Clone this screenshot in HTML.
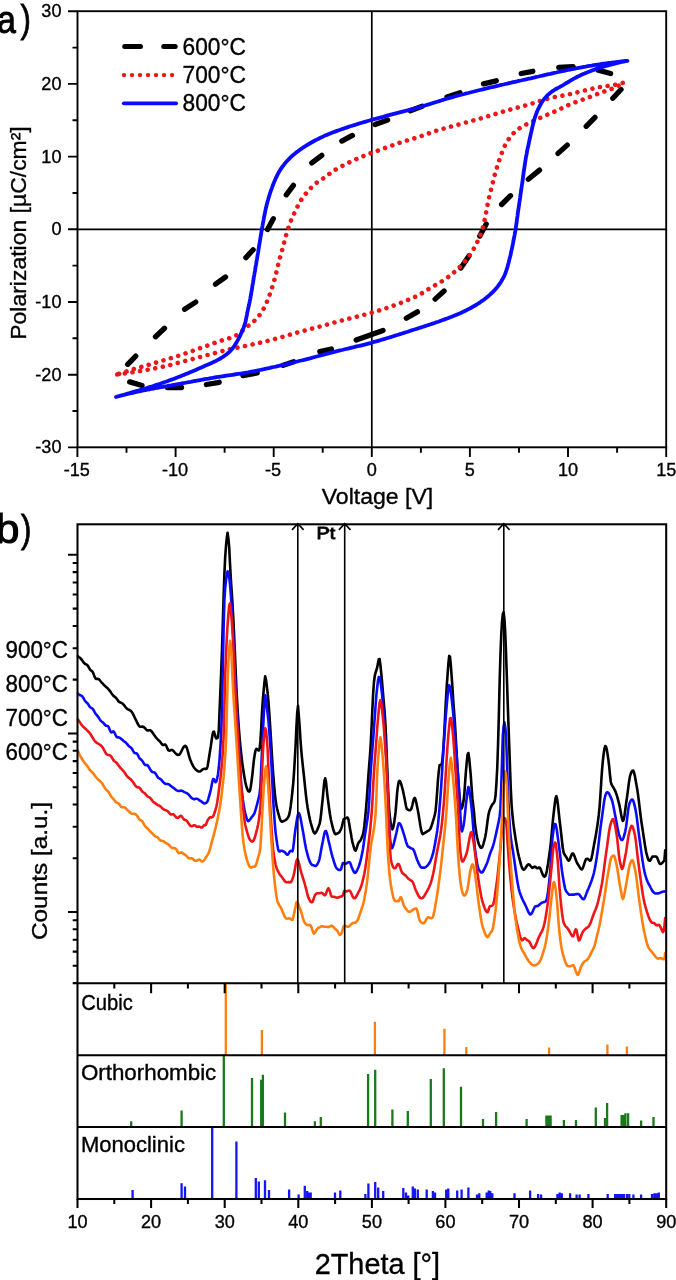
<!DOCTYPE html>
<html lang="en"><head><meta charset="utf-8"><title>Figure</title>
<style>html,body{margin:0;padding:0;background:#fff}body{width:676px;height:1280px;overflow:hidden}svg{display:block;filter:blur(.3px)}text{font-family:"Liberation Sans",Arial,sans-serif;fill:#000;stroke:#000;stroke-width:.35px}</style></head><body>
<svg width="676" height="1280" viewBox="0 0 676 1280">
<rect width="676" height="1280" fill="#fff"/>
<g id="plotA">
<g stroke="#000" stroke-width="1.7" fill="none">
<line x1="77.5" y1="229.3" x2="666.2" y2="229.3"/>
<line x1="371.8" y1="11.2" x2="371.8" y2="447.3"/>
</g>
<g fill="none" stroke-linejoin="round">
<path d="M129.7,381.9 L142,385.5 M167.4,387.5 L181.5,387.5 M206.4,384.5 L219.2,382.3 M242.9,375.6 L257.2,372.9 M283.3,365.3 L293.7,361.8 M319.8,351.7 L331.4,349 M356.2,340.1 L383,330.4 M406.3,318.3 L417.4,311.9 M435.1,299.1 L444.1,291 M460.8,268 L469.1,255.8 M479.8,236.1 L486.2,224.1 M501.6,204.5 L510.5,195.7 M528.3,179.3 L539.5,170.1 M558,153.4 L567.2,145.1 M586.2,126.3 L595,117.3 M612.8,98.3 L621,89.5 M610.6,73.5 L598.2,70.1 M573.2,66.6 L558.7,67.4 M532.8,71.3 L521.2,73.5 M496.3,80.8 L483.5,83.8 M460,92.8 L447,97 M422.2,106.3 L410.3,110.8 M387.6,120 L375.1,124.6 M352.4,135.4 L341.8,141.1 M321.8,155.4 L311.8,162.9 M293.4,185.3 L286.3,194.8 M273.3,218.7 L267.5,229.4 M253.1,249.7 L245.9,257.6 M225.5,277 L215.5,284.1 M195.7,302.1 L184.6,309.3 M164.5,328.3 L155.5,336.7 M135.7,356.1 L127.7,364.3" stroke="#000" stroke-width="5.3" stroke-linecap="round"/>
<path d="M622.7,82.9 L620.8,83.4 L618.8,83.9 L616.9,84.4 L614.9,84.8 L612.9,85.1 L610.9,85.5 L609,85.7 L607,86 L605,86.3 L603,86.6 L601,86.9 L599,87.2 L597.1,87.6 L595.1,88 L593.1,88.5 L591.2,88.9 L589.2,89.4 L587.3,89.9 L585.3,90.3 L583.4,90.8 L581.4,91.3 L579.5,91.8 L577.5,92.3 L575.6,92.8 L573.6,93.3 L571.7,93.7 L569.7,94.2 L567.8,94.6 L565.8,95 L563.8,95.4 L561.8,95.7 L559.9,96.1 L557.9,96.4 L555.9,96.8 L553.9,97.2 L552,97.6 L550,98.1 L548.1,98.6 L546.2,99.1 L544.2,99.7 L542.3,100.3 L540.4,100.9 L538.5,101.5 L536.6,102.1 L534.7,102.7 L532.7,103.3 L530.8,103.9 L528.9,104.5 L527,105 L525,105.6 L523.1,106.1 L521.2,106.6 L519.2,107.2 L517.3,107.7 L515.3,108.2 L513.4,108.7 L511.5,109.3 L509.5,109.8 L507.6,110.4 L505.7,110.9 L503.7,111.5 L501.8,112 L499.9,112.6 L498,113.2 L496.1,113.8 L494.1,114.4 L492.2,115 L490.3,115.5 L488.4,116.1 L486.5,116.7 L484.5,117.3 L482.6,117.8 L480.7,118.4 L478.7,118.9 L476.8,119.5 L474.9,120 L472.9,120.6 L471,121.1 L469.1,121.6 L467.1,122.2 L465.2,122.7 L463.3,123.2 L461.3,123.8 L459.4,124.3 L457.5,124.8 L455.5,125.4 L453.6,125.9 L451.6,126.4 L449.7,126.9 L447.8,127.5 L445.8,128 L443.9,128.5 L442,129.1 L440,129.6 L438.1,130.2 L436.2,130.8 L434.3,131.4 L432.4,132.1 L430.5,132.7 L428.6,133.4 L426.7,134.1 L424.8,134.8 L422.9,135.5 L421,136.1 L419.1,136.8 L417.2,137.4 L415.3,138 L413.4,138.6 L411.5,139.2 L409.5,139.7 L407.6,140.3 L405.7,140.9 L403.8,141.4 L401.9,142 L399.9,142.7 L398,143.3 L396.1,144 L394.3,144.6 L392.4,145.3 L390.5,146 L388.6,146.7 L386.7,147.4 L384.8,148.1 L382.9,148.8 L381,149.4 L379.2,150.1 L377.3,150.8 L375.4,151.5 L373.5,152.2 L371.6,152.9 L369.7,153.6 L367.9,154.3 L366,155.1 L364.1,155.8 L362.3,156.6 L360.4,157.4 L358.6,158.2 L356.8,159 L354.9,159.8 L353.1,160.6 L351.3,161.5 L349.4,162.3 L347.6,163.2 L345.8,164.1 L344.1,165 L342.3,165.9 L340.5,166.9 L338.7,167.8 L337,168.8 L335.3,169.8 L333.6,170.9 L331.9,172 L330.3,173.2 L328.7,174.4 L327.1,175.6 L325.5,176.8 L323.8,178 L322.2,179.2 L320.5,180.2 L318.8,181.3 L317.1,182.4 L315.5,183.6 L314,184.8 L312.5,186.3 L311.2,187.7 L309.8,189.2 L308.5,190.7 L307.1,192.2 L305.8,193.7 L304.6,195.3 L303.4,196.9 L302.2,198.5 L301,200.2 L300,201.9 L299,203.6 L298.1,205.4 L297.2,207.2 L296.4,209 L295.5,210.9 L294.6,212.7 L293.7,214.5 L292.9,216.3 L292,218.1 L291.2,220 L290.5,221.8 L289.8,223.7 L289.1,225.6 L288.5,227.5 L287.9,229.4 L287.3,231.3 L286.7,233.2 L286.1,235.2 L285.6,237.1 L285.1,239 L284.5,241 L284,242.9 L283.5,244.9 L283,246.8 L282.5,248.7 L281.9,250.7 L281.4,252.6 L280.9,254.6 L280.3,256.5 L279.8,258.4 L279.3,260.4 L278.8,262.3 L278.3,264.3 L277.8,266.2 L277.4,268.2 L276.9,270.1 L276.4,272.1 L276,274 L275.5,276 L274.9,277.9 L274.4,279.8 L273.8,281.8 L273.3,283.7 L272.7,285.6 L272.1,287.5 L271.4,289.4 L270.8,291.3 L270.1,293.2 L269.5,295.1 L268.8,297 L268.1,298.9 L267.3,300.8 L266.6,302.7 L265.8,304.5 L264.9,306.3 L264,308.1 L263,309.8 L262,311.6 L260.9,313.3 L259.7,314.9 L258.5,316.5 L257.3,318 L255.9,319.5 L254.4,320.8 L252.9,322.1 L251.3,323.4 L249.7,324.7 L248.2,325.9 L246.6,327.3 L245.1,328.6 L243.5,329.9 L242,331.3 L240.4,332.6 L238.8,333.8 L237.2,334.8 L235.5,335.8 L233.7,336.6 L231.9,337.3 L230,338 L228.1,338.6 L226.1,339.1 L224.2,339.7 L222.2,340.3 L220.3,341 L218.4,341.6 L216.5,342.3 L214.6,342.9 L212.7,343.6 L210.8,344.3 L208.9,345 L207.1,345.7 L205.2,346.4 L203.3,347 L201.4,347.7 L199.5,348.4 L197.6,349.1 L195.7,349.7 L193.8,350.4 L191.9,351.1 L190,351.7 L188.1,352.4 L186.3,353.1 L184.4,353.7 L182.5,354.4 L180.6,355 L178.6,355.7 L176.7,356.3 L174.8,356.9 L172.9,357.5 L171,358.1 L169.1,358.7 L167.2,359.2 L165.2,359.8 L163.3,360.4 L161.4,361 L159.5,361.5 L157.5,362.1 L155.6,362.7 L153.7,363.2 L151.8,363.8 L149.8,364.4 L147.9,365 L146,365.5 L144,366.1 L142.1,366.7 L140.2,367.2 L138.3,367.8 L136.3,368.4 L134.4,368.9 L132.5,369.5 L130.6,370.1 L128.7,370.7 L126.7,371.3 L124.8,371.9 L122.9,372.5 L121,373.1 L119.1,373.8 L117.2,374.4" stroke="#ee1616" stroke-width="4.6" stroke-linecap="round" stroke-dasharray="0.01 7.7"/>
<path d="M117.2,374.4 L119.2,374.1 L121.2,373.9 L123.2,373.6 L125.2,373.3 L127.2,373.1 L129.2,372.8 L131.1,372.5 L133.1,372.2 L135.1,371.9 L137.1,371.6 L139.1,371.2 L141.1,370.9 L143.1,370.6 L145,370.2 L147,369.9 L149,369.5 L151,369.1 L152.9,368.8 L154.9,368.4 L156.9,368 L158.9,367.6 L160.8,367.2 L162.8,366.7 L164.7,366.3 L166.7,365.8 L168.6,365.3 L170.6,364.9 L172.5,364.4 L174.5,363.8 L176.4,363.3 L178.4,362.8 L180.3,362.3 L182.3,361.8 L184.2,361.2 L186.1,360.7 L188.1,360.2 L190,359.7 L192,359.2 L193.9,358.7 L195.9,358.1 L197.8,357.6 L199.7,357.1 L201.7,356.6 L203.6,356.1 L205.6,355.6 L207.5,355 L209.5,354.5 L211.4,354 L213.3,353.5 L215.3,353 L217.2,352.4 L219.2,351.9 L221.1,351.4 L223.1,350.9 L225,350.4 L227,349.9 L228.9,349.5 L230.9,349 L232.8,348.6 L234.8,348.2 L236.8,347.8 L238.7,347.4 L240.7,346.9 L242.7,346.5 L244.6,346.1 L246.6,345.7 L248.6,345.2 L250.5,344.8 L252.5,344.4 L254.5,343.9 L256.4,343.5 L258.4,343 L260.3,342.6 L262.3,342.1 L264.3,341.7 L266.2,341.2 L268.2,340.7 L270.1,340.2 L272.1,339.7 L274,339.2 L275.9,338.7 L277.9,338.2 L279.8,337.6 L281.8,337.1 L283.7,336.5 L285.6,336 L287.5,335.4 L289.5,334.8 L291.4,334.3 L293.3,333.7 L295.3,333.2 L297.2,332.6 L299.1,332.1 L301.1,331.6 L303,331 L305,330.5 L306.9,330 L308.9,329.5 L310.8,328.9 L312.7,328.4 L314.7,327.9 L316.6,327.4 L318.6,326.9 L320.5,326.3 L322.4,325.8 L324.4,325.3 L326.3,324.8 L328.3,324.2 L330.2,323.7 L332.1,323.2 L334.1,322.6 L336,322.1 L338,321.6 L339.9,321.1 L341.8,320.5 L343.8,320 L345.7,319.5 L347.7,319 L349.6,318.5 L351.6,318 L353.5,317.5 L355.5,317 L357.4,316.5 L359.4,316 L361.3,315.5 L363.3,315 L365.2,314.5 L367.2,314 L369.1,313.5 L371,312.9 L372.9,312.4 L374.9,311.8 L376.8,311.2 L378.7,310.6 L380.6,310 L382.5,309.4 L384.5,308.7 L386.4,308.1 L388.3,307.5 L390.2,306.8 L392.1,306.1 L394,305.4 L395.8,304.8 L397.7,304.1 L399.6,303.4 L401.5,302.6 L403.4,301.9 L405.2,301.2 L407.1,300.4 L409,299.6 L410.8,298.9 L412.7,298 L414.5,297.2 L416.3,296.3 L418.1,295.4 L419.8,294.5 L421.6,293.5 L423.3,292.4 L425,291.3 L426.7,290.3 L428.4,289.2 L430.1,288.1 L431.9,287.1 L433.6,286.1 L435.3,285.1 L437.1,284.1 L438.8,283.1 L440.6,282.1 L442.3,281 L444,279.9 L445.6,278.8 L447.3,277.6 L448.9,276.5 L450.5,275.2 L452.1,274 L453.6,272.7 L455.1,271.4 L456.6,270.1 L458.1,268.7 L459.5,267.3 L461,265.8 L462.3,264.4 L463.7,262.9 L465,261.3 L466.2,259.8 L467.5,258.2 L468.7,256.6 L469.8,254.9 L471,253.3 L472.1,251.6 L473.1,249.9 L474.1,248.1 L475.1,246.4 L476,244.6 L476.9,242.8 L477.8,241 L478.6,239.1 L479.5,237.3 L480.2,235.4 L481,233.6 L481.7,231.7 L482.3,229.8 L482.8,227.9 L483.3,225.9 L483.8,224 L484.2,222 L484.6,220 L485,218 L485.4,216.1 L485.8,214.1 L486.2,212.1 L486.5,210.1 L486.9,208.2 L487.3,206.2 L487.6,204.2 L488,202.2 L488.4,200.3 L488.9,198.3 L489.3,196.4 L489.8,194.4 L490.3,192.4 L490.8,190.5 L491.3,188.6 L491.8,186.6 L492.3,184.7 L492.8,182.7 L493.2,180.7 L493.7,178.8 L494.2,176.8 L494.7,174.9 L495.2,173 L495.8,171 L496.4,169.1 L497,167.2 L497.6,165.3 L498.2,163.3 L498.8,161.4 L499.5,159.5 L500.2,157.6 L500.8,155.7 L501.5,153.8 L502.2,151.9 L502.9,150.1 L503.7,148.2 L504.5,146.4 L505.4,144.6 L506.4,142.8 L507.4,141.1 L508.5,139.4 L509.7,137.8 L510.9,136.2 L512.2,134.7 L513.6,133.2 L515.1,131.8 L516.6,130.5 L518.2,129.3 L519.8,128.1 L521.5,127 L523.3,126 L525,125.1 L526.8,124.1 L528.6,123.2 L530.4,122.4 L532.3,121.5 L534.1,120.7 L535.9,119.8 L537.7,119 L539.6,118.2 L541.4,117.4 L543.3,116.5 L545.1,115.7 L546.9,114.9 L548.8,114.1 L550.6,113.3 L552.5,112.5 L554.3,111.7 L556.1,110.9 L558,110 L559.8,109.2 L561.6,108.3 L563.4,107.4 L565.2,106.5 L567,105.7 L568.9,104.9 L570.7,104.1 L572.6,103.3 L574.4,102.6 L576.3,101.9 L578.2,101.2 L580.1,100.5 L582,99.8 L583.9,99.1 L585.8,98.5 L587.7,97.8 L589.5,97 L591.4,96.3 L593.3,95.6 L595.2,94.9 L597.1,94.2 L598.9,93.5 L600.8,92.8 L602.7,92.1 L604.6,91.4 L606.5,90.7 L608.4,90.1 L610.3,89.4 L612.2,88.7 L614.1,87.9 L615.9,87.1 L617.7,86.2 L619.4,85.2 L621,84.1 L622.7,82.9" stroke="#ee1616" stroke-width="4.6" stroke-linecap="round" stroke-dasharray="0.01 7.7"/>
<path d="M116,397 L117.9,396.5 L119.9,396 L121.8,395.5 L123.8,395 L125.7,394.5 L127.7,394 L129.6,393.5 L131.6,393.1 L133.5,392.6 L135.5,392.2 L137.5,391.7 L139.4,391.3 L141.4,390.9 L143.4,390.5 L145.3,390.1 L147.3,389.7 L149.3,389.3 L151.2,388.9 L153.2,388.6 L155.2,388.2 L157.2,387.8 L159.1,387.5 L161.1,387.1 L163.1,386.8 L165.1,386.4 L167.1,386.1 L169,385.7 L171,385.4 L173,385 L175,384.7 L176.9,384.3 L178.9,384 L180.9,383.6 L182.9,383.2 L184.8,382.9 L186.8,382.5 L188.8,382.1 L190.8,381.8 L192.7,381.4 L194.7,381 L196.7,380.7 L198.7,380.3 L200.7,380 L202.6,379.6 L204.6,379.2 L206.6,378.9 L208.6,378.6 L210.5,378.2 L212.5,377.9 L214.5,377.5 L216.5,377.2 L218.5,376.9 L220.5,376.6 L222.4,376.3 L224.4,376 L226.4,375.7 L228.4,375.4 L230.4,375.1 L232.4,374.8 L234.4,374.5 L236.4,374.2 L238.3,373.9 L240.3,373.6 L242.3,373.3 L244.3,373 L246.3,372.6 L248.2,372.3 L250.2,371.9 L252.2,371.5 L254.2,371.2 L256.1,370.8 L258.1,370.4 L260.1,370 L262,369.6 L264,369.2 L266,368.7 L267.9,368.3 L269.9,367.9 L271.8,367.4 L273.8,367 L275.8,366.6 L277.7,366.1 L279.7,365.7 L281.6,365.2 L283.6,364.7 L285.6,364.3 L287.5,363.8 L289.5,363.4 L291.4,362.9 L293.4,362.4 L295.3,362 L297.3,361.5 L299.2,361 L301.2,360.5 L303.1,360.1 L305.1,359.6 L307,359.1 L309,358.6 L310.9,358.1 L312.9,357.5 L314.8,357 L316.7,356.5 L318.7,356 L320.6,355.5 L322.6,355 L324.5,354.4 L326.5,353.9 L328.4,353.4 L330.3,352.9 L332.3,352.4 L334.2,351.9 L336.2,351.4 L338.1,350.9 L340.1,350.4 L342,350 L344,349.5 L345.9,349 L347.9,348.6 L349.8,348.1 L351.8,347.6 L353.8,347.2 L355.7,346.7 L357.7,346.2 L359.6,345.8 L361.6,345.3 L363.5,344.8 L365.5,344.3 L367.4,343.8 L369.3,343.3 L371.3,342.8 L373.2,342.2 L375.1,341.7 L377.1,341.1 L379,340.6 L380.9,340 L382.9,339.4 L384.8,338.9 L386.7,338.3 L388.6,337.7 L390.6,337.1 L392.5,336.5 L394.4,335.9 L396.3,335.3 L398.2,334.7 L400.1,334.1 L402.1,333.5 L404,332.9 L405.9,332.3 L407.8,331.7 L409.7,331 L411.6,330.4 L413.5,329.8 L415.4,329.2 L417.4,328.6 L419.3,328 L421.2,327.4 L423.1,326.8 L425,326.1 L426.9,325.5 L428.8,324.9 L430.7,324.3 L432.6,323.6 L434.5,323 L436.4,322.3 L438.3,321.7 L440.2,321 L442.1,320.3 L444,319.6 L445.9,318.9 L447.8,318.3 L449.7,317.5 L451.6,316.8 L453.4,316.1 L455.3,315.3 L457.1,314.5 L459,313.7 L460.8,312.9 L462.6,312.1 L464.4,311.2 L466.3,310.3 L468,309.4 L469.8,308.5 L471.6,307.5 L473.3,306.5 L475.1,305.5 L476.8,304.5 L478.5,303.4 L480.2,302.3 L481.8,301.1 L483.5,300 L485.1,298.7 L486.6,297.5 L488.2,296.2 L489.7,294.9 L491.2,293.5 L492.7,292.1 L494.1,290.7 L495.4,289.2 L496.7,287.7 L498,286.1 L499.1,284.5 L500.3,282.9 L501.4,281.2 L502.4,279.4 L503.4,277.6 L504.3,275.8 L505.1,274 L505.8,272.2 L506.4,270.3 L507,268.4 L507.6,266.5 L508.1,264.5 L508.7,262.5 L509.1,260.6 L509.6,258.6 L510.1,256.7 L510.6,254.7 L511,252.7 L511.4,250.8 L511.9,248.8 L512.3,246.9 L512.7,244.9 L513.1,242.9 L513.4,240.9 L513.8,239 L514.2,237 L514.6,235 L514.9,233 L515.3,231.1 L515.6,229.1 L515.9,227.1 L516.2,225.1 L516.5,223.1 L516.8,221.1 L517,219.1 L517.3,217.2 L517.6,215.2 L517.8,213.2 L518.1,211.2 L518.4,209.2 L518.7,207.2 L519,205.2 L519.3,203.2 L519.6,201.2 L519.9,199.3 L520.2,197.3 L520.4,195.3 L520.7,193.3 L521,191.3 L521.3,189.3 L521.6,187.3 L521.9,185.3 L522.2,183.4 L522.5,181.4 L522.7,179.4 L523,177.4 L523.3,175.4 L523.5,173.4 L523.8,171.4 L524.1,169.4 L524.4,167.4 L524.7,165.4 L525,163.5 L525.3,161.5 L525.6,159.5 L525.9,157.5 L526.3,155.5 L526.7,153.6 L527,151.6 L527.4,149.6 L527.8,147.7 L528.3,145.7 L528.7,143.7 L529.1,141.8 L529.5,139.8 L530,137.8 L530.4,135.9 L530.8,133.9 L531.3,131.9 L531.7,130 L532.2,128 L532.6,126 L533.1,124.1 L533.6,122.1 L534.1,120.2 L534.7,118.3 L535.3,116.4 L536,114.5 L536.7,112.6 L537.4,110.7 L538.3,108.9 L539.2,107.1 L540.1,105.3 L541.1,103.6 L542.1,101.9 L543.3,100.2 L544.5,98.6 L545.9,97.1 L547.2,95.6 L548.7,94.2 L550.2,92.9 L551.7,91.7 L553.4,90.6 L555.1,89.5 L556.8,88.5 L558.6,87.6 L560.4,86.6 L562.2,85.6 L563.9,84.6 L565.6,83.5 L567.4,82.5 L569.1,81.5 L570.8,80.4 L572.6,79.4 L574.3,78.4 L576.1,77.5 L577.8,76.5 L579.6,75.7 L581.5,74.8 L583.3,74 L585.1,73.2 L587,72.5 L588.9,71.7 L590.8,71 L592.6,70.3 L594.5,69.6 L596.4,68.9 L598.3,68.3 L600.2,67.7 L602.2,67.1 L604.1,66.5 L606,66 L607.9,65.4 L609.9,64.9 L611.8,64.4 L613.8,63.9 L615.7,63.4 L617.7,62.9 L619.6,62.5 L621.6,62 L623.6,61.6 L625.5,61.2 L627.5,60.8 L625.5,61 L623.5,61.2 L621.5,61.4 L619.5,61.7 L617.5,61.9 L615.5,62.2 L613.5,62.4 L611.5,62.7 L609.5,62.9 L607.6,63.2 L605.6,63.5 L603.6,63.7 L601.6,64 L599.6,64.3 L597.6,64.6 L595.6,64.9 L593.7,65.2 L591.7,65.6 L589.7,65.9 L587.7,66.2 L585.7,66.6 L583.8,66.9 L581.8,67.3 L579.8,67.7 L577.8,68 L575.9,68.4 L573.9,68.8 L571.9,69.2 L570,69.6 L568,70 L566,70.4 L564,70.8 L562.1,71.2 L560.1,71.6 L558.2,72 L556.2,72.5 L554.2,72.9 L552.3,73.3 L550.3,73.8 L548.4,74.2 L546.4,74.7 L544.4,75.1 L542.5,75.6 L540.5,76 L538.6,76.5 L536.6,76.9 L534.7,77.4 L532.7,77.8 L530.7,78.3 L528.8,78.7 L526.8,79.2 L524.9,79.6 L522.9,80 L520.9,80.5 L519,80.9 L517,81.4 L515.1,81.8 L513.1,82.2 L511.2,82.7 L509.2,83.1 L507.2,83.6 L505.3,84 L503.3,84.5 L501.4,84.9 L499.4,85.4 L497.5,85.8 L495.5,86.3 L493.5,86.8 L491.6,87.2 L489.6,87.7 L487.7,88.2 L485.7,88.6 L483.8,89.1 L481.8,89.6 L479.9,90 L477.9,90.5 L476,91 L474,91.5 L472.1,92 L470.1,92.5 L468.2,93 L466.2,93.4 L464.3,94 L462.4,94.5 L460.4,95 L458.5,95.5 L456.5,96 L454.6,96.5 L452.7,97.1 L450.7,97.6 L448.8,98.2 L446.9,98.7 L445,99.3 L443,99.9 L441.1,100.5 L439.2,101.1 L437.3,101.7 L435.4,102.3 L433.4,102.9 L431.5,103.5 L429.6,104.1 L427.7,104.6 L425.8,105.2 L423.8,105.8 L421.9,106.4 L420,106.9 L418.1,107.5 L416.1,108 L414.2,108.6 L412.2,109.1 L410.3,109.6 L408.4,110.1 L406.4,110.7 L404.5,111.2 L402.5,111.7 L400.6,112.2 L398.7,112.7 L396.7,113.2 L394.8,113.7 L392.8,114.2 L390.9,114.7 L388.9,115.2 L387,115.7 L385.1,116.2 L383.1,116.8 L381.2,117.3 L379.2,117.8 L377.3,118.3 L375.4,118.8 L373.4,119.4 L371.5,119.9 L369.6,120.5 L367.6,121 L365.7,121.6 L363.8,122.1 L361.8,122.7 L359.9,123.3 L358,123.9 L356.1,124.5 L354.2,125.1 L352.2,125.7 L350.3,126.3 L348.4,126.9 L346.5,127.6 L344.6,128.2 L342.7,128.9 L340.8,129.5 L338.9,130.2 L337,130.9 L335.1,131.6 L333.3,132.3 L331.4,133 L329.5,133.8 L327.7,134.6 L325.8,135.3 L324,136.1 L322.2,137 L320.4,137.8 L318.6,138.7 L316.8,139.6 L315,140.5 L313.2,141.5 L311.4,142.5 L309.7,143.5 L308,144.5 L306.2,145.6 L304.6,146.6 L302.9,147.7 L301.2,148.9 L299.6,150 L298,151.2 L296.3,152.4 L294.8,153.7 L293.2,155 L291.7,156.3 L290.3,157.7 L288.9,159.1 L287.5,160.5 L286.1,162 L284.8,163.6 L283.6,165.2 L282.3,166.8 L281.2,168.4 L280.1,170.1 L279.1,171.8 L278.1,173.5 L277.2,175.3 L276.3,177.1 L275.5,179 L274.7,180.8 L273.9,182.7 L273.2,184.6 L272.4,186.5 L271.8,188.3 L271.1,190.2 L270.4,192.1 L269.8,194 L269.2,196 L268.6,197.9 L268.1,199.8 L267.5,201.8 L267,203.7 L266.5,205.6 L266.1,207.6 L265.6,209.5 L265.2,211.5 L264.8,213.5 L264.4,215.4 L264,217.4 L263.7,219.4 L263.3,221.4 L262.9,223.4 L262.6,225.3 L262.2,227.3 L261.9,229.3 L261.5,231.3 L261.2,233.2 L260.9,235.2 L260.5,237.2 L260.2,239.2 L259.9,241.2 L259.6,243.2 L259.2,245.1 L258.9,247.1 L258.6,249.1 L258.3,251.1 L258,253.1 L257.6,255 L257.3,257 L257,259 L256.6,261 L256.3,263 L256,264.9 L255.6,266.9 L255.3,268.9 L255,270.9 L254.6,272.9 L254.3,274.8 L253.9,276.8 L253.6,278.8 L253.3,280.8 L253,282.8 L252.6,284.7 L252.3,286.7 L252,288.7 L251.7,290.7 L251.3,292.7 L251,294.7 L250.6,296.6 L250.3,298.6 L249.9,300.6 L249.5,302.5 L249.1,304.5 L248.6,306.5 L248.2,308.4 L247.8,310.4 L247.3,312.4 L247,314.3 L246.6,316.3 L246.2,318.3 L245.8,320.3 L245.4,322.2 L244.8,324.1 L244.2,326 L243.5,327.9 L242.7,329.8 L241.9,331.6 L241.1,333.4 L240.3,335.3 L239.4,337.1 L238.5,338.9 L237.5,340.7 L236.6,342.4 L235.5,344.1 L234.4,345.8 L233.2,347.5 L232,349.1 L230.7,350.6 L229.3,352 L227.8,353.3 L226.3,354.6 L224.6,355.7 L222.9,356.9 L221.2,358 L219.5,359 L217.8,359.9 L216,360.9 L214.2,361.7 L212.4,362.6 L210.5,363.4 L208.7,364.2 L206.8,365 L205,365.8 L203.1,366.7 L201.3,367.5 L199.5,368.3 L197.6,369.1 L195.8,369.9 L193.9,370.7 L192.1,371.5 L190.2,372.3 L188.4,373.1 L186.5,373.8 L184.7,374.6 L182.8,375.3 L181,376.1 L179.1,376.8 L177.2,377.5 L175.3,378.3 L173.5,379 L171.6,379.6 L169.7,380.3 L167.8,381 L165.9,381.7 L164,382.3 L162.1,383 L160.2,383.7 L158.3,384.3 L156.4,384.9 L154.5,385.6 L152.6,386.2 L150.7,386.8 L148.8,387.4 L146.8,388 L144.9,388.5 L143,389.1 L141.1,389.7 L139.1,390.3 L137.2,390.8 L135.3,391.4 L133.4,391.9 L131.4,392.5 L129.5,393.1 L127.6,393.6 L125.6,394.2 L123.7,394.8 L121.8,395.3 L119.9,395.9 L117.9,396.4 L116,397Z" stroke="#0a0aff" stroke-width="3.8" stroke-linecap="round"/>
</g>
<g stroke="#000" stroke-width="1.9" fill="none">
<rect x="77.5" y="11.2" width="588.7" height="436.1"/>
<path d="M77.4,447.3 v9.6 M126.5,447.3 v5.4 M175.6,447.3 v9.6 M224.6,447.3 v5.4 M273.7,447.3 v9.6 M322.7,447.3 v5.4 M371.8,447.3 v9.6 M420.9,447.3 v5.4 M469.9,447.3 v9.6 M519,447.3 v5.4 M568,447.3 v9.6 M617.1,447.3 v5.4 M666.2,447.3 v9.6 M77.5,447.4 h-9.5 M77.5,411 h-5 M77.5,374.7 h-9.5 M77.5,338.3 h-5 M77.5,302 h-9.5 M77.5,265.6 h-5 M77.5,229.3 h-9.5 M77.5,193 h-5 M77.5,156.6 h-9.5 M77.5,120.3 h-5 M77.5,83.9 h-9.5 M77.5,47.6 h-5 M77.5,11.2 h-9.5"/>
</g>
<g font-size="18.1" text-anchor="end">
<text x="61.5" y="453.2">-30</text>
<text x="61.5" y="380.6">-20</text>
<text x="61.5" y="307.9">-10</text>
<text x="61.5" y="235.2">0</text>
<text x="61.5" y="162.5">10</text>
<text x="61.5" y="89.8">20</text>
<text x="61.5" y="17.1">30</text>
</g>
<g font-size="18.1" text-anchor="middle">
<text x="76.8" y="476.1">-15</text>
<text x="175" y="476.1">-10</text>
<text x="273.1" y="476.1">-5</text>
<text x="371.8" y="476.1">0</text>
<text x="469.9" y="476.1">5</text>
<text x="568" y="476.1">10</text>
<text x="666.2" y="476.1">15</text>
</g>
<text x="377.5" y="503.6" font-size="22.8" text-anchor="middle" textLength="111.5" lengthAdjust="spacingAndGlyphs">Voltage [V]</text>
<text transform="translate(26,233) rotate(-90)" font-size="22.8" text-anchor="middle" textLength="213.5" lengthAdjust="spacingAndGlyphs">Polarization [µC/cm²]</text>
<g fill="none">
<path d="M124.7,46.5 H140.5 M163.7,46.5 H175.2" stroke="#000" stroke-width="5" stroke-linecap="round"/>
<path d="M124,75.1 H173" stroke="#ee1616" stroke-width="4.4" stroke-linecap="round" stroke-dasharray="0.01 8"/>
<path d="M123.8,103.3 H176.1" stroke="#0a0aff" stroke-width="3.8" stroke-linecap="round"/>
</g>
<g font-size="24">
<text x="182.6" y="54.6" textLength="63.4" lengthAdjust="spacingAndGlyphs">600°C</text>
<text x="182.6" y="82.9" textLength="63.4" lengthAdjust="spacingAndGlyphs">700°C</text>
<text x="182.6" y="111.2" textLength="63.4" lengthAdjust="spacingAndGlyphs">800°C</text>
</g>
<text><tspan x="-2.7" y="33.2" font-size="39" textLength="18.6" lengthAdjust="spacingAndGlyphs" style="stroke-width:1px">a</tspan><tspan x="20.6" y="31.7" font-size="38.7" textLength="10.4" lengthAdjust="spacingAndGlyphs" style="stroke-width:.8px">)</tspan></text>
</g>
<g id="plotB">
<g fill="none" stroke-width="2.6" stroke-linejoin="round" stroke-linecap="round">
<path d="M78,656.4 L78.8,657 L79.6,657.5 L80.4,658.2 L81.2,659.1 L82,660.1 L82.8,661.3 L83.6,662.4 L84.4,663.3 L85.2,664 L86,664.3 L86.8,664.7 L87.6,665.4 L88.4,666.7 L89.2,668.1 L90,669.5 L90.8,670.3 L91.6,670.8 L92.4,671.5 L93.2,673 L94,675.1 L94.8,677.2 L95.6,678.6 L96.4,679 L97.2,678.9 L98,678.8 L98.8,679.2 L99.6,680 L100.4,681 L101.2,682 L102,682.9 L102.8,683.7 L103.6,684.6 L104.4,685.4 L105.2,686.1 L106,686.9 L106.8,687.6 L107.6,688.3 L108.4,689.2 L109.2,690.1 L110,691.1 L110.8,692.2 L111.6,693.4 L112.4,694.5 L113.2,695.5 L114,696.3 L114.8,696.9 L115.6,697.5 L116.4,698.3 L117.2,699.4 L118,700.6 L118.8,701.6 L119.6,702.2 L120.4,702.6 L121.2,702.8 L122,703.2 L122.8,703.8 L123.6,704.6 L124.4,705.6 L125.2,706.7 L126,707.7 L126.8,708.5 L127.6,709.1 L128.4,709.5 L129.2,709.8 L130,710.3 L130.8,710.9 L131.6,711.7 L132.4,712.9 L133.2,714.4 L134,716 L134.8,717.7 L135.6,719.4 L136.4,721 L137.2,722.7 L138,724.3 L138.8,725.6 L139.6,726.5 L140.4,726.8 L141.2,726.7 L142,726.6 L142.8,726.6 L143.6,727 L144.4,727.6 L145.2,728.4 L146,729.3 L146.8,730.1 L147.6,730.5 L148.4,730.4 L149.2,730.2 L150,730.2 L150.8,730.6 L151.6,731.4 L152.4,732.4 L153.2,733.5 L154,734.7 L154.8,735.8 L155.6,736.9 L156.4,738 L157.2,738.9 L158,739.7 L158.8,740.4 L159.6,741.2 L160.4,742.1 L161.2,743.2 L162,744.3 L162.8,745 L163.6,745 L164.4,744.6 L165.2,744.5 L166,745.3 L166.8,747 L167.6,748.9 L168.4,750.3 L169.2,750.7 L170,750.5 L170.8,750.1 L171.6,749.9 L172.4,750.1 L173.2,750.7 L174,751.5 L174.8,752.5 L175.6,753.4 L176.4,754.2 L177.2,754.7 L178,754.9 L178.8,754.8 L179.6,754.3 L180.4,753.1 L181.2,751.7 L182,750 L182.8,748.4 L183.6,747 L184.4,746.1 L185.2,745.8 L186,746.3 L186.8,747.9 L187.6,750.4 L188.4,753.3 L189.2,756.4 L190,759 L190.8,761.1 L191.6,763 L192.4,764.7 L193.2,766.2 L194,767.4 L194.8,768.5 L195.6,769.4 L196.4,770.1 L197.2,770.7 L198,771.2 L198.8,771.5 L199.6,771.5 L200.4,771.2 L201.2,770.6 L202,769.9 L202.8,769.3 L203.6,768.9 L204.4,768.7 L205.2,768.7 L206,768.9 L206.8,768.7 L207.6,766.1 L208.4,761.6 L209.2,756.2 L210,751.1 L210.8,746.4 L211.6,740.8 L212.4,735.5 L213.2,731.9 L214,731.6 L214.8,734.3 L215.6,737.2 L216.4,738.5 L217.2,738.3 L218,737.2 L218.8,729.8 L219.6,709.7 L220.4,690.5 L221.2,671.3 L222,649.9 L222.8,623.5 L223.6,597.2 L224.4,573.7 L225.2,556.8 L226,546 L226.8,537.6 L227.6,532.8 L228.4,538.7 L229.2,547.4 L230,563.2 L230.8,578.6 L231.6,590.2 L232.4,602.1 L233.2,616.7 L234,632.9 L234.8,650.3 L235.6,669.9 L236.4,688.1 L237.2,702.7 L238,716 L238.8,727.7 L239.6,737.6 L240.4,746.3 L241.2,754 L242,760.9 L242.8,766.8 L243.6,772 L244.4,777 L245.2,781.4 L246,785.2 L246.8,788 L247.6,789.8 L248.4,791.3 L249.2,791.6 L250,790.7 L250.8,786.5 L251.6,780.7 L252.4,774.6 L253.2,766.5 L254,759.2 L254.8,754.1 L255.6,750.1 L256.4,748.8 L257.2,749.2 L258,750.1 L258.8,750.5 L259.6,749.1 L260.4,740.9 L261.2,728.4 L262,712 L262.8,700.6 L263.6,691.3 L264.4,682.7 L265.2,676.2 L266,679.8 L266.8,685.9 L267.6,692.7 L268.4,701.2 L269.2,712.1 L270,724.1 L270.8,736.6 L271.6,749.8 L272.4,762.8 L273.2,774.4 L274,784.2 L274.8,793.1 L275.6,800.3 L276.4,805.2 L277.2,809.1 L278,812.2 L278.8,815.1 L279.6,817.9 L280.4,820.1 L281.2,821.4 L282,821.8 L282.8,821.4 L283.6,821 L284.4,820.7 L285.2,820.3 L286,819.8 L286.8,819 L287.6,818.1 L288.4,816.8 L289.2,814.7 L290,810.8 L290.8,805.4 L291.6,798.8 L292.4,791.5 L293.2,783.6 L294,772.8 L294.8,759.6 L295.6,745.2 L296.4,727.2 L297.2,713 L298,705.8 L298.8,715.3 L299.6,726.2 L300.4,738.5 L301.2,749.5 L302,758.1 L302.8,765.6 L303.6,772.9 L304.4,780.5 L305.2,788.2 L306,795.6 L306.8,802.1 L307.6,807.5 L308.4,812 L309.2,816.1 L310,819.8 L310.8,823 L311.6,825.8 L312.4,828.5 L313.2,831 L314,832.8 L314.8,833.4 L315.6,832.7 L316.4,831.5 L317.2,830 L318,828.1 L318.8,826 L319.6,823.9 L320.4,819.8 L321.2,813 L322,805.2 L322.8,797.8 L323.6,788.9 L324.4,780.8 L325.2,778.3 L326,781.9 L326.8,789.7 L327.6,797.1 L328.4,803 L329.2,809 L330,814.5 L330.8,819.2 L331.6,822.7 L332.4,826 L333.2,829.1 L334,831.8 L334.8,833.6 L335.6,834.2 L336.4,833.9 L337.2,833.5 L338,833.2 L338.8,832.7 L339.6,831.8 L340.4,830.4 L341.2,828.7 L342,826.3 L342.8,822.6 L343.6,819.5 L344.4,818.7 L345.2,818.5 L346,818.1 L346.8,817.7 L347.6,817.5 L348.4,819.2 L349.2,823.7 L350,828.7 L350.8,833.1 L351.6,837.9 L352.4,842.1 L353.2,845 L354,847.7 L354.8,850 L355.6,850.6 L356.4,848.8 L357.2,846.4 L358,844 L358.8,842.3 L359.6,841.4 L360.4,840.5 L361.2,839 L362,837 L362.8,834.9 L363.6,831.4 L364.4,825.2 L365.2,817.3 L366,808.9 L366.8,798.8 L367.6,787.1 L368.4,775.4 L369.2,765.1 L370,755.1 L370.8,742.8 L371.6,726 L372.4,708.6 L373.2,692.7 L374,682 L374.8,675.6 L375.6,672.5 L376.4,670.3 L377.2,667.4 L378,663 L378.8,659.2 L379.6,659 L380.4,665 L381.2,672.9 L382,681.2 L382.8,690.8 L383.6,700.4 L384.4,709.7 L385.2,720.6 L386,736.4 L386.8,757.5 L387.6,777.5 L388.4,797.6 L389.2,810.1 L390,817.8 L390.8,823.8 L391.6,827.8 L392.4,829.3 L393.2,827.4 L394,823.6 L394.8,818.3 L395.6,811.9 L396.4,802.2 L397.2,791.8 L398,785.7 L398.8,781.5 L399.6,780.9 L400.4,781.9 L401.2,784.1 L402,787 L402.8,790 L403.6,793.7 L404.4,797.4 L405.2,801.7 L406,806.1 L406.8,809 L407.6,809.5 L408.4,809.9 L409.2,810.3 L410,810.3 L410.8,809.6 L411.6,808.1 L412.4,805 L413.2,801.4 L414,798.6 L414.8,797.8 L415.6,799.7 L416.4,803.2 L417.2,807.3 L418,811 L418.8,815.7 L419.6,820.8 L420.4,825.9 L421.2,830.2 L422,833.1 L422.8,834.1 L423.6,833.7 L424.4,833.2 L425.2,832.7 L426,832.2 L426.8,831.6 L427.6,831.1 L428.4,830.7 L429.2,830.3 L430,829.3 L430.8,827.8 L431.6,825.7 L432.4,823.2 L433.2,820.5 L434,817.8 L434.8,814.7 L435.6,810.4 L436.4,801.8 L437.2,791 L438,779.7 L438.8,771.1 L439.6,765.2 L440.4,764.8 L441.2,764.8 L442,762.9 L442.8,755.8 L443.6,745 L444.4,730.6 L445.2,713.7 L446,699 L446.8,685.4 L447.6,674.2 L448.4,663.3 L449.2,655.9 L450,656.9 L450.8,664.9 L451.6,675.6 L452.4,686.9 L453.2,700 L454,710.5 L454.8,721.4 L455.6,734.6 L456.4,749.1 L457.2,763.3 L458,775.9 L458.8,787.7 L459.6,797.5 L460.4,804.8 L461.2,808.9 L462,807.8 L462.8,804.8 L463.6,800.6 L464.4,793.3 L465.2,781 L466,770.7 L466.8,761.5 L467.6,754.4 L468.4,753 L469.2,758.4 L470,766.9 L470.8,775.9 L471.6,787.5 L472.4,798.2 L473.2,805.1 L474,812.1 L474.8,821.8 L475.6,828.3 L476.4,833.5 L477.2,838 L478,841.5 L478.8,844 L479.6,845.9 L480.4,847.4 L481.2,847.9 L482,847.5 L482.8,845.9 L483.6,843.3 L484.4,840.2 L485.2,837 L486,832.7 L486.8,826.8 L487.6,820.5 L488.4,815.1 L489.2,811.6 L490,809.3 L490.8,807.4 L491.6,805.8 L492.4,804.4 L493.2,803.5 L494,802.4 L494.8,800.4 L495.6,795.1 L496.4,783.7 L497.2,768.8 L498,746.3 L498.8,717.6 L499.6,683.6 L500.4,656.4 L501.2,636 L502,622.2 L502.8,614.3 L503.6,612.2 L504.4,618.7 L505.2,632.1 L506,652.2 L506.8,675.8 L507.6,699.9 L508.4,722.7 L509.2,744.8 L510,767.2 L510.8,789.3 L511.6,805 L512.4,814.5 L513.2,822.1 L514,828.3 L514.8,833.7 L515.6,838.9 L516.4,843.9 L517.2,848.5 L518,852.6 L518.8,856.2 L519.6,859.3 L520.4,862.4 L521.2,865.3 L522,867.7 L522.8,869.2 L523.6,869.7 L524.4,869.4 L525.2,868.5 L526,867.2 L526.8,865.9 L527.6,864.9 L528.4,864.4 L529.2,864.5 L530,865.2 L530.8,866.3 L531.6,867.3 L532.4,867.9 L533.2,867.5 L534,866.9 L534.8,866.6 L535.6,867 L536.4,867.7 L537.2,868.3 L538,868.2 L538.8,867.6 L539.6,867.5 L540.4,868.6 L541.2,870.6 L542,872.8 L542.8,874.8 L543.6,876.1 L544.4,876.6 L545.2,876.1 L546,874.3 L546.8,871.1 L547.6,866.6 L548.4,861.2 L549.2,855.5 L550,849.8 L550.8,843.1 L551.6,834.7 L552.4,825.8 L553.2,817.4 L554,810.5 L554.8,803.7 L555.6,798 L556.4,796.1 L557.2,799.2 L558,805.3 L558.8,812.9 L559.6,820.5 L560.4,826.9 L561.2,834 L562,841.4 L562.8,848 L563.6,852.5 L564.4,854.3 L565.2,855.5 L566,856.6 L566.8,858 L567.6,859.5 L568.4,860.6 L569.2,860.5 L570,859 L570.8,856.8 L571.6,854.8 L572.4,853.5 L573.2,853.6 L574,855.1 L574.8,857.1 L575.6,859.3 L576.4,861.5 L577.2,863.3 L578,864.5 L578.8,865.7 L579.6,867.1 L580.4,868.3 L581.2,869.2 L582,869.4 L582.8,868.1 L583.6,865.9 L584.4,863.3 L585.2,860.9 L586,859.2 L586.8,858.8 L587.6,858.9 L588.4,859.4 L589.2,860 L590,860.7 L590.8,860.3 L591.6,857.8 L592.4,853.9 L593.2,849.4 L594,845 L594.8,840.8 L595.6,836.4 L596.4,831.8 L597.2,826.8 L598,821.1 L598.8,814.7 L599.6,806.6 L600.4,795.3 L601.2,782.4 L602,770.4 L602.8,761.3 L603.6,754.5 L604.4,748.7 L605.2,746 L606,746.5 L606.8,749.6 L607.6,754.4 L608.4,759.9 L609.2,766.5 L610,775.1 L610.8,782 L611.6,784.7 L612.4,786.1 L613.2,787.2 L614,788.6 L614.8,790.1 L615.6,791.9 L616.4,794.1 L617.2,796.7 L618,799.6 L618.8,802.6 L619.6,805.9 L620.4,810.2 L621.2,814.8 L622,818.7 L622.8,820.9 L623.6,820 L624.4,816 L625.2,810.3 L626,804.1 L626.8,798.7 L627.6,792.9 L628.4,786.6 L629.2,780.7 L630,776.1 L630.8,773.6 L631.6,771.9 L632.4,770.7 L633.2,770.5 L634,772.2 L634.8,775.6 L635.6,779.9 L636.4,784.6 L637.2,789 L638,794.4 L638.8,800.6 L639.6,807.3 L640.4,814 L641.2,820.3 L642,825.7 L642.8,830.9 L643.6,836.2 L644.4,841.5 L645.2,846.6 L646,851.2 L646.8,854.7 L647.6,857.5 L648.4,859.8 L649.2,860.7 L650,860.7 L650.8,859.6 L651.6,857.9 L652.4,856.6 L653.2,856.6 L654,856.5 L654.8,856.5 L655.6,856.5 L656.4,856.8 L657.2,857.7 L658,859.7 L658.8,861.9 L659.6,863.6 L660.4,864 L661.2,863.8 L662,863.2 L662.8,862.3 L663.6,861.3 L664.4,860.7 L665.2,850.4" stroke="#000"/>
<path d="M78,693.7 L78.8,694.5 L79.6,695 L80.4,695.3 L81.2,695.6 L82,696.1 L82.8,697 L83.6,698.4 L84.4,699.9 L85.2,701.1 L86,702 L86.8,702.7 L87.6,703.5 L88.4,704.6 L89.2,705.9 L90,707 L90.8,707.6 L91.6,708 L92.4,708.5 L93.2,709.5 L94,710.9 L94.8,712.4 L95.6,713.8 L96.4,714.7 L97.2,715.6 L98,716.6 L98.8,717.8 L99.6,719.2 L100.4,720.4 L101.2,721.2 L102,721.8 L102.8,722.3 L103.6,723.1 L104.4,724.1 L105.2,725.1 L106,725.7 L106.8,725.7 L107.6,725.9 L108.4,726.7 L109.2,728.4 L110,730.5 L110.8,732 L111.6,732.4 L112.4,731.8 L113.2,731.3 L114,731.8 L114.8,733.3 L115.6,735.1 L116.4,736.5 L117.2,737.2 L118,737.4 L118.8,737.4 L119.6,737.7 L120.4,738.3 L121.2,738.9 L122,739.6 L122.8,740.3 L123.6,741 L124.4,741.6 L125.2,742.1 L126,742.8 L126.8,743.6 L127.6,744.6 L128.4,745.6 L129.2,746.4 L130,747 L130.8,747.5 L131.6,748.3 L132.4,749.5 L133.2,751.1 L134,752.4 L134.8,753.1 L135.6,753.2 L136.4,753.3 L137.2,753.9 L138,755.3 L138.8,756.9 L139.6,758.4 L140.4,759.2 L141.2,759.7 L142,760.4 L142.8,761.6 L143.6,763 L144.4,764.3 L145.2,765 L146,765.1 L146.8,765 L147.6,765.3 L148.4,766.3 L149.2,767.7 L150,769.2 L150.8,770.4 L151.6,771.4 L152.4,772 L153.2,772.2 L154,772.3 L154.8,772.7 L155.6,773.6 L156.4,775 L157.2,776.5 L158,777.6 L158.8,778.2 L159.6,778.6 L160.4,779 L161.2,779.7 L162,780.6 L162.8,781.6 L163.6,782.5 L164.4,783.2 L165.2,783.7 L166,784 L166.8,784 L167.6,784 L168.4,784.2 L169.2,784.6 L170,785.2 L170.8,785.9 L171.6,786.5 L172.4,787.1 L173.2,787.7 L174,788.3 L174.8,788.9 L175.6,789.6 L176.4,790.2 L177.2,790.6 L178,790.9 L178.8,791 L179.6,790.9 L180.4,790.7 L181.2,790.6 L182,790.8 L182.8,791.2 L183.6,791.7 L184.4,792.1 L185.2,792.4 L186,792.8 L186.8,793.2 L187.6,793.7 L188.4,794.3 L189.2,795.2 L190,796.2 L190.8,797.2 L191.6,798 L192.4,798.5 L193.2,798.9 L194,799.3 L194.8,799.2 L195.6,798.7 L196.4,798.8 L197.2,798.8 L198,799.2 L198.8,799.8 L199.6,800.5 L200.4,800.8 L201.2,801.3 L202,802 L202.8,802.7 L203.6,803.2 L204.4,803.5 L205.2,803.3 L206,802.9 L206.8,802.4 L207.6,801.1 L208.4,798.7 L209.2,795.8 L210,792.8 L210.8,789.7 L211.6,785.5 L212.4,781.4 L213.2,779 L214,779.3 L214.8,780.9 L215.6,782.2 L216.4,781.4 L217.2,778.3 L218,774.2 L218.8,767.5 L219.6,758.6 L220.4,746.7 L221.2,731.4 L222,710.6 L222.8,668.4 L223.6,628.4 L224.4,599.8 L225.2,587.8 L226,580.5 L226.8,574.7 L227.6,571.4 L228.4,572.1 L229.2,577.2 L230,584 L230.8,593.8 L231.6,605.7 L232.4,619.8 L233.2,635.6 L234,651.9 L234.8,669.2 L235.6,686.1 L236.4,701.1 L237.2,715.1 L238,728.6 L238.8,742.3 L239.6,757.2 L240.4,771.9 L241.2,784.3 L242,792.7 L242.8,799.2 L243.6,804.6 L244.4,809.3 L245.2,813 L246,816.2 L246.8,818.9 L247.6,820.6 L248.4,821.1 L249.2,820.4 L250,819.5 L250.8,818.4 L251.6,817.3 L252.4,816.3 L253.2,815.4 L254,814.2 L254.8,812.2 L255.6,809.7 L256.4,806.8 L257.2,803.7 L258,800.7 L258.8,797.7 L259.6,793.7 L260.4,786.3 L261.2,768.3 L262,751.8 L262.8,735.2 L263.6,717.6 L264.4,702.3 L265.2,695.2 L266,700.9 L266.8,707 L267.6,713.4 L268.4,720.7 L269.2,729.6 L270,740.7 L270.8,753.5 L271.6,767.2 L272.4,783.9 L273.2,800 L274,812.6 L274.8,823.8 L275.6,832.8 L276.4,838.8 L277.2,844.2 L278,848.6 L278.8,851.2 L279.6,851.5 L280.4,851.2 L281.2,850.7 L282,850.8 L282.8,851.1 L283.6,851.5 L284.4,851.9 L285.2,852.6 L286,853.6 L286.8,854.5 L287.6,854.8 L288.4,854 L289.2,852.5 L290,851.3 L290.8,850.8 L291.6,851.1 L292.4,851.4 L293.2,848.3 L294,841.6 L294.8,834 L295.6,828.2 L296.4,822.9 L297.2,818 L298,814.4 L298.8,813 L299.6,814.4 L300.4,817.6 L301.2,821.8 L302,826.3 L302.8,830.4 L303.6,835 L304.4,839.9 L305.2,844.6 L306,848.6 L306.8,851.8 L307.6,854.8 L308.4,857.6 L309.2,860.1 L310,862 L310.8,863.4 L311.6,864.5 L312.4,865.1 L313.2,865.3 L314,865.5 L314.8,865.8 L315.6,866 L316.4,865.6 L317.2,864.5 L318,863 L318.8,861.3 L319.6,858.5 L320.4,854.3 L321.2,849.6 L322,845.3 L322.8,841.5 L323.6,837.2 L324.4,833.4 L325.2,831.2 L326,831 L326.8,832.9 L327.6,836.3 L328.4,840.1 L329.2,843.4 L330,846.7 L330.8,850.2 L331.6,853.6 L332.4,856.6 L333.2,859.2 L334,861.8 L334.8,864.3 L335.6,866.5 L336.4,868 L337.2,868.9 L338,869.5 L338.8,869.9 L339.6,870 L340.4,869.9 L341.2,868.9 L342,865.8 L342.8,863.1 L343.6,863.1 L344.4,863.5 L345.2,863.8 L346,863.7 L346.8,863.2 L347.6,862.6 L348.4,862.3 L349.2,862.2 L350,862.4 L350.8,864.4 L351.6,867 L352.4,868.8 L353.2,870.7 L354,872.1 L354.8,872.9 L355.6,872.7 L356.4,871.6 L357.2,870 L358,868.3 L358.8,866.4 L359.6,864 L360.4,861.1 L361.2,857.8 L362,854.1 L362.8,850 L363.6,844.8 L364.4,838.8 L365.2,833.6 L366,828.5 L366.8,823.2 L367.6,818.1 L368.4,811.9 L369.2,800.9 L370,784.2 L370.8,770 L371.6,759.2 L372.4,749 L373.2,738.3 L374,727.6 L374.8,716.8 L375.6,705.2 L376.4,694.9 L377.2,687.3 L378,680.6 L378.8,677 L379.6,677.4 L380.4,681.1 L381.2,686.8 L382,693.6 L382.8,702.8 L383.6,714.2 L384.4,726.1 L385.2,739.4 L386,753.4 L386.8,768.6 L387.6,787.2 L388.4,807.5 L389.2,825.1 L390,838.2 L390.8,844.7 L391.6,848.3 L392.4,847.8 L393.2,845.7 L394,842.8 L394.8,839.6 L395.6,836.3 L396.4,833 L397.2,829.1 L398,825.4 L398.8,823.2 L399.6,823.3 L400.4,824.3 L401.2,826.1 L402,828.4 L402.8,830.9 L403.6,833.3 L404.4,835.8 L405.2,838.7 L406,841.6 L406.8,844.1 L407.6,846 L408.4,846.9 L409.2,847.1 L410,847.6 L410.8,848.1 L411.6,848.5 L412.4,848.8 L413.2,849.4 L414,850.8 L414.8,852.9 L415.6,855.3 L416.4,857.8 L417.2,860 L418,861.8 L418.8,863.6 L419.6,865.2 L420.4,866.6 L421.2,867.5 L422,867.8 L422.8,867.6 L423.6,867.5 L424.4,867.6 L425.2,867.5 L426,867 L426.8,866.1 L427.6,865.3 L428.4,864.4 L429.2,863.3 L430,861.9 L430.8,860 L431.6,857.9 L432.4,855.5 L433.2,852.7 L434,849.1 L434.8,845 L435.6,840.5 L436.4,835.9 L437.2,830.9 L438,824.6 L438.8,816.1 L439.6,807 L440.4,797.2 L441.2,786.3 L442,773.2 L442.8,759.5 L443.6,747.3 L444.4,735.8 L445.2,724.4 L446,713.4 L446.8,704.3 L447.6,695.6 L448.4,688.3 L449.2,685.2 L450,687 L450.8,691.7 L451.6,698.3 L452.4,705.3 L453.2,713.2 L454,722.9 L454.8,733 L455.6,742.8 L456.4,752.9 L457.2,763.5 L458,774.3 L458.8,786.2 L459.6,801 L460.4,815.7 L461.2,829.7 L462,831.3 L462.8,828.7 L463.6,825.4 L464.4,819.7 L465.2,811.8 L466,803.7 L466.8,797.3 L467.6,790.8 L468.4,787 L469.2,789 L470,795.1 L470.8,801.3 L471.6,808 L472.4,816.6 L473.2,827.3 L474,838.2 L474.8,847.4 L475.6,853.6 L476.4,859 L477.2,863.7 L478,867.4 L478.8,869.6 L479.6,870.8 L480.4,871.8 L481.2,872.5 L482,872.5 L482.8,871.8 L483.6,870.5 L484.4,868.9 L485.2,867.2 L486,865.4 L486.8,863.7 L487.6,861.6 L488.4,859.1 L489.2,856.4 L490,853.9 L490.8,851.7 L491.6,849.8 L492.4,847.8 L493.2,845.4 L494,842.5 L494.8,839.2 L495.6,835.7 L496.4,832.1 L497.2,828.5 L498,824.8 L498.8,821.2 L499.6,816.5 L500.4,808.9 L501.2,788.3 L502,762.7 L502.8,735.8 L503.6,726.8 L504.4,722.2 L505.2,726.7 L506,734.1 L506.8,756.8 L507.6,781 L508.4,801.7 L509.2,817.7 L510,830 L510.8,837.6 L511.6,843.2 L512.4,848 L513.2,852.7 L514,858.1 L514.8,863.7 L515.6,869.5 L516.4,875.1 L517.2,880.4 L518,885.1 L518.8,888.8 L519.6,891.8 L520.4,894.3 L521.2,896.3 L522,898.2 L522.8,900 L523.6,901.6 L524.4,903.2 L525.2,904.8 L526,906.5 L526.8,908.3 L527.6,910.1 L528.4,911.9 L529.2,913.4 L530,914.4 L530.8,914.4 L531.6,913.5 L532.4,912.1 L533.2,910.3 L534,908.5 L534.8,907 L535.6,906.2 L536.4,906.1 L537.2,906.1 L538,905.9 L538.8,905.3 L539.6,904.5 L540.4,903.8 L541.2,903.2 L542,902.7 L542.8,902.4 L543.6,902.1 L544.4,902 L545.2,901.6 L546,900.9 L546.8,899 L547.6,894.8 L548.4,888.8 L549.2,881.6 L550,874.1 L550.8,863.2 L551.6,849.3 L552.4,838.3 L553.2,832 L554,826.6 L554.8,824 L555.6,824.2 L556.4,827.4 L557.2,832.7 L558,838.8 L558.8,844.6 L559.6,850.6 L560.4,857.4 L561.2,864.5 L562,871 L562.8,876.2 L563.6,881 L564.4,885.4 L565.2,888.9 L566,891.1 L566.8,892 L567.6,893.1 L568.4,894 L569.2,894.6 L570,894.7 L570.8,894.7 L571.6,894.6 L572.4,894.6 L573.2,894.7 L574,894.6 L574.8,894.5 L575.6,894.3 L576.4,894.1 L577.2,894 L578,894 L578.8,894.3 L579.6,894.9 L580.4,896 L581.2,897.2 L582,898.3 L582.8,899.1 L583.6,899.3 L584.4,898.4 L585.2,896.7 L586,894.6 L586.8,892.4 L587.6,890.4 L588.4,888.7 L589.2,886.8 L590,884.9 L590.8,882.8 L591.6,880.6 L592.4,878.3 L593.2,875.7 L594,872.5 L594.8,868.8 L595.6,864.4 L596.4,859.6 L597.2,854.3 L598,848.6 L598.8,842.1 L599.6,835.2 L600.4,828.5 L601.2,822.5 L602,817.1 L602.8,811.2 L603.6,805.2 L604.4,799.8 L605.2,795.9 L606,793.8 L606.8,792.5 L607.6,792.2 L608.4,792.8 L609.2,794 L610,795.6 L610.8,797.4 L611.6,799.2 L612.4,801.7 L613.2,805.2 L614,809.2 L614.8,813.4 L615.6,817.4 L616.4,821.7 L617.2,826.2 L618,830.4 L618.8,833.9 L619.6,836.3 L620.4,838.4 L621.2,839.7 L622,840.1 L622.8,839.3 L623.6,837.4 L624.4,834.7 L625.2,831.5 L626,827.4 L626.8,821.3 L627.6,814.5 L628.4,808.3 L629.2,804.4 L630,802.2 L630.8,800.5 L631.6,799.8 L632.4,799.5 L633.2,800.7 L634,803.1 L634.8,806.4 L635.6,810 L636.4,814.7 L637.2,820.7 L638,827.3 L638.8,833.7 L639.6,839.5 L640.4,845.2 L641.2,851.1 L642,856.9 L642.8,862.4 L643.6,867.3 L644.4,871.3 L645.2,874.6 L646,877.4 L646.8,879.8 L647.6,881.8 L648.4,883.5 L649.2,884.9 L650,886.4 L650.8,888 L651.6,889.5 L652.4,890.9 L653.2,891.9 L654,892.7 L654.8,893.2 L655.6,893.4 L656.4,893.5 L657.2,893.5 L658,893.4 L658.8,893.2 L659.6,893 L660.4,892.6 L661.2,892.3 L662,892 L662.8,891.8 L663.6,891.6 L664.4,891.4" stroke="#0a0aff"/>
<path d="M78,719.6 L78.8,720.7 L79.6,721.9 L80.4,723.1 L81.2,724.3 L82,725.4 L82.8,726.3 L83.6,727.1 L84.4,727.8 L85.2,728.5 L86,729.2 L86.8,730.1 L87.6,730.9 L88.4,731.7 L89.2,732.5 L90,733.5 L90.8,734.7 L91.6,736 L92.4,737.3 L93.2,738.6 L94,739.9 L94.8,741 L95.6,741.9 L96.4,742.5 L97.2,743.1 L98,743.5 L98.8,744 L99.6,744.5 L100.4,745.1 L101.2,745.8 L102,746.6 L102.8,747.7 L103.6,749.1 L104.4,750.7 L105.2,752.2 L106,753.5 L106.8,754.3 L107.6,754.7 L108.4,754.9 L109.2,755.1 L110,755.4 L110.8,756 L111.6,757.1 L112.4,758.5 L113.2,759.9 L114,760.9 L114.8,761.5 L115.6,762 L116.4,762.6 L117.2,763.6 L118,764.7 L118.8,765.8 L119.6,766.9 L120.4,767.8 L121.2,768.7 L122,769.5 L122.8,770.3 L123.6,771.2 L124.4,772.2 L125.2,773.5 L126,774.8 L126.8,775.9 L127.6,776.7 L128.4,777.4 L129.2,778.1 L130,778.7 L130.8,779.5 L131.6,780.3 L132.4,781.3 L133.2,782.4 L134,783.5 L134.8,784.7 L135.6,785.8 L136.4,786.7 L137.2,787.2 L138,787.4 L138.8,787.4 L139.6,787.8 L140.4,788.7 L141.2,790 L142,791.2 L142.8,792 L143.6,792.5 L144.4,793 L145.2,793.7 L146,794.7 L146.8,795.7 L147.6,796.5 L148.4,796.9 L149.2,797.2 L150,797.8 L150.8,798.6 L151.6,799.7 L152.4,800.8 L153.2,801.7 L154,802.4 L154.8,802.9 L155.6,803.5 L156.4,804.1 L157.2,804.7 L158,805.2 L158.8,805.5 L159.6,805.9 L160.4,806.4 L161.2,807.1 L162,808 L162.8,808.7 L163.6,809.3 L164.4,809.8 L165.2,810.1 L166,810.3 L166.8,810.7 L167.6,811.1 L168.4,811.9 L169.2,812.9 L170,813.9 L170.8,814.5 L171.6,814.5 L172.4,814.3 L173.2,814.2 L174,814.7 L174.8,815.7 L175.6,816.7 L176.4,817.5 L177.2,817.9 L178,817.8 L178.8,817.3 L179.6,816.6 L180.4,815.9 L181.2,815.9 L182,816.7 L182.8,817.9 L183.6,819 L184.4,819.7 L185.2,819.9 L186,820.2 L186.8,820.9 L187.6,821.9 L188.4,823.2 L189.2,824.4 L190,825.4 L190.8,826.1 L191.6,826.3 L192.4,826.1 L193.2,825.6 L194,825.2 L194.8,825.3 L195.6,825.9 L196.4,826.6 L197.2,826.9 L198,826.8 L198.8,826.6 L199.6,826.7 L200.4,827.1 L201.2,827.5 L202,827.5 L202.8,826.8 L203.6,825.8 L204.4,825 L205.2,825.2 L206,824.6 L206.8,822.4 L207.6,820.3 L208.4,819.2 L209.2,818.1 L210,817.4 L210.8,817.3 L211.6,817.4 L212.4,817.1 L213.2,816.2 L214,814.4 L214.8,812 L215.6,809.3 L216.4,806.5 L217.2,802.5 L218,797.2 L218.8,791.2 L219.6,784.8 L220.4,778.5 L221.2,771.4 L222,762.7 L222.8,751.6 L223.6,737.3 L224.4,705.2 L225.2,675 L226,654.2 L226.8,637.9 L227.6,624.3 L228.4,614.1 L229.2,605.6 L230,603.3 L230.8,609.5 L231.6,618.5 L232.4,629.9 L233.2,643.4 L234,660.3 L234.8,679.2 L235.6,695.7 L236.4,710.3 L237.2,723.9 L238,737 L238.8,750.1 L239.6,763.1 L240.4,775.4 L241.2,786.3 L242,795.6 L242.8,804.6 L243.6,812.8 L244.4,819.6 L245.2,824.7 L246,827.9 L246.8,830.9 L247.6,833.7 L248.4,836.2 L249.2,838.3 L250,839.8 L250.8,840.8 L251.6,841.4 L252.4,841.6 L253.2,841.2 L254,839.7 L254.8,837.5 L255.6,834.7 L256.4,831.7 L257.2,828.6 L258,825 L258.8,820.4 L259.6,814.5 L260.4,806 L261.2,790 L262,772.6 L262.8,754.2 L263.6,741.6 L264.4,733.2 L265.2,728.4 L266,730 L266.8,737.8 L267.6,749.2 L268.4,767.7 L269.2,785.4 L270,802.4 L270.8,816.8 L271.6,830 L272.4,841.6 L273.2,849.9 L274,855.7 L274.8,860.6 L275.6,864.5 L276.4,867.4 L277.2,869.5 L278,871.2 L278.8,872.7 L279.6,874.1 L280.4,875.3 L281.2,876.3 L282,877.3 L282.8,878.3 L283.6,879.5 L284.4,880.7 L285.2,881.6 L286,882.1 L286.8,882.3 L287.6,882.2 L288.4,882.1 L289.2,882.1 L290,882.4 L290.8,882.2 L291.6,881.1 L292.4,879.2 L293.2,876.8 L294,873.9 L294.8,869.8 L295.6,865.2 L296.4,861.3 L297.2,859.2 L298,860.1 L298.8,862.5 L299.6,865.8 L300.4,869.3 L301.2,872.4 L302,874.9 L302.8,877.5 L303.6,880.1 L304.4,882.7 L305.2,885.5 L306,888.6 L306.8,891.8 L307.6,895 L308.4,897.6 L309.2,899.4 L310,900.8 L310.8,901.9 L311.6,902.3 L312.4,902.1 L313.2,900.3 L314,897.7 L314.8,895.4 L315.6,894.2 L316.4,893.6 L317.2,893.3 L318,893.3 L318.8,893.3 L319.6,893.2 L320.4,892.9 L321.2,892.7 L322,892.9 L322.8,893.6 L323.6,894.5 L324.4,895.1 L325.2,895.1 L326,893.7 L326.8,891.4 L327.6,889.3 L328.4,888.2 L329.2,889.4 L330,891.9 L330.8,894.7 L331.6,896.6 L332.4,896.8 L333.2,896.8 L334,896.8 L334.8,897 L335.6,897.3 L336.4,897.5 L337.2,897.7 L338,897.6 L338.8,897.3 L339.6,897 L340.4,896.6 L341.2,896.4 L342,896.3 L342.8,895.4 L343.6,892.7 L344.4,890.9 L345.2,891.5 L346,891.4 L346.8,891.3 L347.6,891 L348.4,890.7 L349.2,890.6 L350,891 L350.8,892.2 L351.6,894.1 L352.4,896 L353.2,897.5 L354,898.2 L354.8,898.3 L355.6,897.6 L356.4,896.3 L357.2,894.7 L358,893 L358.8,891.5 L359.6,890.1 L360.4,888.4 L361.2,886.2 L362,883.5 L362.8,880.4 L363.6,877 L364.4,873.3 L365.2,868.8 L366,863.4 L366.8,857.5 L367.6,851.2 L368.4,844.8 L369.2,838.1 L370,830.9 L370.8,822.9 L371.6,813.6 L372.4,801.8 L373.2,785.7 L374,771.3 L374.8,760.4 L375.6,750.3 L376.4,739.5 L377.2,728.2 L378,718.7 L378.8,710 L379.6,702.7 L380.4,700.2 L381.2,703.2 L382,709.1 L382.8,716.5 L383.6,724.4 L384.4,734.8 L385.2,746.3 L386,757.7 L386.8,770.7 L387.6,787.6 L388.4,807.4 L389.2,830.2 L390,848.6 L390.8,859.3 L391.6,862.8 L392.4,865.5 L393.2,867.3 L394,868.3 L394.8,868.3 L395.6,867.8 L396.4,866.4 L397.2,864.9 L398,863.9 L398.8,864.2 L399.6,865.8 L400.4,868.1 L401.2,870.5 L402,872.4 L402.8,873.4 L403.6,874 L404.4,874.6 L405.2,875.2 L406,876 L406.8,876.9 L407.6,877.8 L408.4,878.7 L409.2,879.3 L410,879.9 L410.8,880.3 L411.6,880.8 L412.4,881.5 L413.2,883 L414,885.1 L414.8,887.5 L415.6,889.7 L416.4,891.4 L417.2,893.1 L418,894.8 L418.8,896.3 L419.6,897.4 L420.4,898 L421.2,898.2 L422,898.2 L422.8,897.8 L423.6,896.9 L424.4,895.7 L425.2,894.3 L426,892.9 L426.8,891.6 L427.6,890.2 L428.4,888.7 L429.2,887 L430,885.1 L430.8,882.9 L431.6,880.2 L432.4,877.2 L433.2,873.8 L434,869.7 L434.8,865.2 L435.6,860.4 L436.4,855.6 L437.2,851.1 L438,846.9 L438.8,843 L439.6,839 L440.4,834.5 L441.2,829.2 L442,822.7 L442.8,814.7 L443.6,805.7 L444.4,795.1 L445.2,783.2 L446,769.4 L446.8,756.5 L447.6,744.8 L448.4,734.7 L449.2,726 L450,718.6 L450.8,718 L451.6,722.2 L452.4,729 L453.2,736.6 L454,747.5 L454.8,759.6 L455.6,771.9 L456.4,784.4 L457.2,795.5 L458,806.8 L458.8,823.3 L459.6,842.4 L460.4,851.9 L461.2,857.8 L462,861.3 L462.8,861.5 L463.6,860.4 L464.4,858.8 L465.2,857 L466,855.1 L466.8,852.7 L467.6,849 L468.4,844.5 L469.2,840 L470,836.2 L470.8,832.5 L471.6,832 L472.4,834.9 L473.2,840.1 L474,845.4 L474.8,851.1 L475.6,857.7 L476.4,864.6 L477.2,871.2 L478,876.8 L478.8,882.1 L479.6,887.2 L480.4,891.9 L481.2,896.2 L482,899.9 L482.8,902.7 L483.6,905.1 L484.4,907.4 L485.2,909.4 L486,911 L486.8,912.1 L487.6,912.3 L488.4,910.3 L489.2,907.6 L490,906 L490.8,906 L491.6,905.9 L492.4,905.5 L493.2,904.5 L494,901.4 L494.8,896.7 L495.6,891 L496.4,885.3 L497.2,879.3 L498,872.1 L498.8,864.4 L499.6,856.6 L500.4,848.4 L501.2,839 L502,830.4 L502.8,824.4 L503.6,820.7 L504.4,818.2 L505.2,818.5 L506,822.4 L506.8,829 L507.6,843.3 L508.4,854.7 L509.2,864.5 L510,873.8 L510.8,882.4 L511.6,890.2 L512.4,897 L513.2,902.7 L514,907.9 L514.8,912.7 L515.6,917 L516.4,921 L517.2,924.6 L518,927.9 L518.8,931.1 L519.6,934.3 L520.4,937.1 L521.2,939.2 L522,940.4 L522.8,940.1 L523.6,938.9 L524.4,938.1 L525.2,938.3 L526,939.1 L526.8,940 L527.6,940.4 L528.4,940.7 L529.2,941.4 L530,942.7 L530.8,944.4 L531.6,946.1 L532.4,947.4 L533.2,948.1 L534,947.9 L534.8,946.9 L535.6,945.4 L536.4,943.5 L537.2,941.5 L538,939.3 L538.8,937.4 L539.6,935.7 L540.4,934.2 L541.2,932.7 L542,931.1 L542.8,929.2 L543.6,926.8 L544.4,923.7 L545.2,919.7 L546,915.1 L546.8,909.9 L547.6,904.3 L548.4,897.8 L549.2,890.4 L550,882.5 L550.8,874.7 L551.6,867 L552.4,857.7 L553.2,849.3 L554,844.9 L554.8,842.5 L555.6,843.1 L556.4,848.4 L557.2,855.7 L558,864.1 L558.8,876.3 L559.6,888.9 L560.4,898 L561.2,905.8 L562,912.9 L562.8,918.6 L563.6,922.5 L564.4,924.4 L565.2,925.7 L566,926.7 L566.8,927.5 L567.6,928.3 L568.4,929.5 L569.2,930.9 L570,932.4 L570.8,933.8 L571.6,935.1 L572.4,936.2 L573.2,936.2 L574,934.1 L574.8,931.3 L575.6,929.4 L576.4,929.9 L577.2,933.4 L578,937.6 L578.8,940.4 L579.6,939.9 L580.4,938 L581.2,935.8 L582,933.6 L582.8,932 L583.6,930.8 L584.4,929.9 L585.2,929.1 L586,928.4 L586.8,927.8 L587.6,927.3 L588.4,926.7 L589.2,925.7 L590,924.2 L590.8,922.2 L591.6,919.9 L592.4,917.7 L593.2,915.5 L594,913.3 L594.8,911.3 L595.6,909.4 L596.4,907.3 L597.2,904.9 L598,902 L598.8,898.7 L599.6,895.2 L600.4,891.5 L601.2,887.5 L602,883.2 L602.8,878 L603.6,872 L604.4,865.8 L605.2,859.6 L606,853.8 L606.8,848.4 L607.6,842.6 L608.4,836.5 L609.2,830.9 L610,826.5 L610.8,823.7 L611.6,821.2 L612.4,819.5 L613.2,819.1 L614,821 L614.8,824.3 L615.6,828.6 L616.4,833.3 L617.2,838.6 L618,846.1 L618.8,854 L619.6,860.1 L620.4,863.9 L621.2,867 L622,868.9 L622.8,867.8 L623.6,864.8 L624.4,860.7 L625.2,856.4 L626,852.2 L626.8,847 L627.6,841.4 L628.4,836.3 L629.2,832.5 L630,829.6 L630.8,827.1 L631.6,825.8 L632.4,826.3 L633.2,828.3 L634,831.2 L634.8,834.5 L635.6,839.1 L636.4,845.7 L637.2,853 L638,859.7 L638.8,865.8 L639.6,871.8 L640.4,877.6 L641.2,883.4 L642,889 L642.8,894.2 L643.6,898.7 L644.4,902.6 L645.2,905.9 L646,908.7 L646.8,911.3 L647.6,913.8 L648.4,916.1 L649.2,918.2 L650,920 L650.8,921.4 L651.6,922.3 L652.4,922.8 L653.2,922.9 L654,923.1 L654.8,923.6 L655.6,924.6 L656.4,925.3 L657.2,925.5 L658,925 L658.8,924.7 L659.6,925.4 L660.4,926.8 L661.2,928.7 L662,930.6 L662.8,932.1 L663.6,931.3 L664.4,926 L665.2,918.1" stroke="#ee1418"/>
<path d="M78,751.1 L78.8,752.9 L79.6,754.8 L80.4,756.4 L81.2,757.8 L82,759 L82.8,760.3 L83.6,761.5 L84.4,762.6 L85.2,763.7 L86,764.5 L86.8,765.4 L87.6,766.4 L88.4,767.6 L89.2,769 L90,770.2 L90.8,771.1 L91.6,771.8 L92.4,772.5 L93.2,773.3 L94,774.4 L94.8,775.5 L95.6,776.7 L96.4,777.7 L97.2,778.6 L98,779.4 L98.8,780.1 L99.6,780.7 L100.4,781.5 L101.2,782.3 L102,783.3 L102.8,784.5 L103.6,785.8 L104.4,787.2 L105.2,788.5 L106,789.5 L106.8,790.2 L107.6,790.9 L108.4,791.7 L109.2,793 L110,794.5 L110.8,795.9 L111.6,797.1 L112.4,797.9 L113.2,798.8 L114,799.7 L114.8,800.9 L115.6,801.9 L116.4,802.6 L117.2,802.8 L118,803.1 L118.8,803.6 L119.6,804.6 L120.4,805.8 L121.2,806.9 L122,807.3 L122.8,807.3 L123.6,807.2 L124.4,807.3 L125.2,807.8 L126,808.5 L126.8,809.4 L127.6,810.2 L128.4,810.9 L129.2,811.7 L130,812.4 L130.8,813.1 L131.6,813.5 L132.4,813.8 L133.2,813.8 L134,813.8 L134.8,813.9 L135.6,814.3 L136.4,815 L137.2,816 L138,817.3 L138.8,818.6 L139.6,819.6 L140.4,820.1 L141.2,820.5 L142,821 L142.8,822.1 L143.6,823.6 L144.4,825.1 L145.2,826.3 L146,827.2 L146.8,827.8 L147.6,828.5 L148.4,829.3 L149.2,830.3 L150,831.2 L150.8,832 L151.6,832.7 L152.4,833.5 L153.2,834.3 L154,835.3 L154.8,836.1 L155.6,836.6 L156.4,836.9 L157.2,837.2 L158,837.7 L158.8,838.7 L159.6,839.7 L160.4,840.5 L161.2,840.8 L162,840.8 L162.8,840.9 L163.6,841.2 L164.4,841.9 L165.2,842.6 L166,843.1 L166.8,843.5 L167.6,843.8 L168.4,844.4 L169.2,845.2 L170,846.1 L170.8,847 L171.6,847.6 L172.4,848 L173.2,848.1 L174,848.1 L174.8,848.2 L175.6,848.6 L176.4,849.5 L177.2,851 L178,852.4 L178.8,853.1 L179.6,853.1 L180.4,852.7 L181.2,852.4 L182,852.7 L182.8,853.2 L183.6,853.9 L184.4,854.4 L185.2,854.9 L186,855.5 L186.8,856.2 L187.6,857.2 L188.4,858 L189.2,858.5 L190,858.4 L190.8,858.2 L191.6,858.2 L192.4,858.6 L193.2,859.3 L194,860.1 L194.8,860.6 L195.6,860.8 L196.4,860.8 L197.2,860.5 L198,860 L198.8,859.6 L199.6,859.7 L200.4,860.3 L201.2,861 L202,861.4 L202.8,861.3 L203.6,860.7 L204.4,859.8 L205.2,858.6 L206,857.3 L206.8,856 L207.6,854.9 L208.4,853.6 L209.2,851.6 L210,849 L210.8,846 L211.6,842.8 L212.4,839.8 L213.2,836.9 L214,833.9 L214.8,830.9 L215.6,827.7 L216.4,824.4 L217.2,820.8 L218,817 L218.8,813 L219.6,808.7 L220.4,803.7 L221.2,798 L222,791.6 L222.8,784.6 L223.6,776.9 L224.4,767.6 L225.2,756 L226,741.3 L226.8,714.1 L227.6,681.3 L228.4,662 L229.2,649.3 L230,640.8 L230.8,644.5 L231.6,656.6 L232.4,675.2 L233.2,691.3 L234,704.5 L234.8,716.5 L235.6,728.2 L236.4,740.4 L237.2,753.2 L238,766.2 L238.8,779.1 L239.6,791.4 L240.4,803.8 L241.2,816.2 L242,827.5 L242.8,836.9 L243.6,843.4 L244.4,848.4 L245.2,852.7 L246,856.4 L246.8,859.3 L247.6,861.9 L248.4,864.1 L249.2,865.9 L250,867.2 L250.8,867.6 L251.6,867.3 L252.4,867 L253.2,866.7 L254,866.5 L254.8,866.7 L255.6,865.9 L256.4,863.7 L257.2,860.8 L258,857.9 L258.8,855.3 L259.6,852.5 L260.4,847.2 L261.2,834.1 L262,818.5 L262.8,804.3 L263.6,790.4 L264.4,779.7 L265.2,770.5 L266,766.4 L266.8,770.4 L267.6,779 L268.4,788.8 L269.2,802.4 L270,816.6 L270.8,830.3 L271.6,843.8 L272.4,855.8 L273.2,866.8 L274,875.8 L274.8,883.3 L275.6,890.1 L276.4,896 L277.2,900.3 L278,902.8 L278.8,904.5 L279.6,905.7 L280.4,906.9 L281.2,908.4 L282,910.2 L282.8,912.2 L283.6,914.1 L284.4,915.9 L285.2,917.4 L286,918.3 L286.8,918.7 L287.6,918.6 L288.4,918.4 L289.2,918.4 L290,918.6 L290.8,919.1 L291.6,919.8 L292.4,919.8 L293.2,917.5 L294,914 L294.8,910.4 L295.6,906.4 L296.4,902.3 L297.2,901.9 L298,903.3 L298.8,905.4 L299.6,907.6 L300.4,909.7 L301.2,911.9 L302,914.7 L302.8,917.7 L303.6,920.3 L304.4,922.2 L305.2,923.3 L306,924 L306.8,924.6 L307.6,925.1 L308.4,925.3 L309.2,925.1 L310,924.9 L310.8,925.7 L311.6,927.8 L312.4,930.3 L313.2,932.6 L314,933.6 L314.8,932.8 L315.6,931.5 L316.4,930.1 L317.2,929 L318,928.2 L318.8,927.7 L319.6,927.3 L320.4,926.8 L321.2,926.5 L322,926.3 L322.8,926.4 L323.6,926.5 L324.4,926.7 L325.2,926.7 L326,926.7 L326.8,926.8 L327.6,927 L328.4,927.1 L329.2,926.8 L330,926.3 L330.8,925.8 L331.6,925.7 L332.4,926 L333.2,926.7 L334,927.7 L334.8,928.5 L335.6,929.2 L336.4,929.9 L337.2,930.7 L338,932.2 L338.8,933.7 L339.6,934.8 L340.4,934.8 L341.2,933.8 L342,932.1 L342.8,929.2 L343.6,926.4 L344.4,925.6 L345.2,925.9 L346,926.3 L346.8,926.6 L347.6,926.7 L348.4,926.6 L349.2,926.1 L350,925.5 L350.8,924.7 L351.6,923.9 L352.4,923.2 L353.2,922.9 L354,922.8 L354.8,922.7 L355.6,922.5 L356.4,921.8 L357.2,920.8 L358,919.4 L358.8,917.3 L359.6,914.9 L360.4,912.4 L361.2,910.1 L362,907.7 L362.8,905.3 L363.6,902.3 L364.4,898.6 L365.2,894.2 L366,889.4 L366.8,884.1 L367.6,877.3 L368.4,869.5 L369.2,861.2 L370,853.3 L370.8,846.6 L371.6,841.4 L372.4,837.2 L373.2,833.1 L374,828.2 L374.8,821.8 L375.6,813.5 L376.4,797.3 L377.2,772.7 L378,760.1 L378.8,750.6 L379.6,741.4 L380.4,737.3 L381.2,741.8 L382,749.7 L382.8,758.2 L383.6,768.5 L384.4,781 L385.2,795.9 L386,812 L386.8,831 L387.6,848.7 L388.4,860.6 L389.2,870.6 L390,878.7 L390.8,884.7 L391.6,889.3 L392.4,893.3 L393.2,896.8 L394,899.5 L394.8,900.8 L395.6,901.2 L396.4,901.3 L397.2,901.2 L398,900.8 L398.8,901.1 L399.6,899.4 L400.4,897.3 L401.2,897.5 L402,899.5 L402.8,902.2 L403.6,904.9 L404.4,906.8 L405.2,907.8 L406,908.8 L406.8,910 L407.6,910.9 L408.4,911.5 L409.2,911.8 L410,911.7 L410.8,911.3 L411.6,910.7 L412.4,910.1 L413.2,909.5 L414,909.1 L414.8,908.7 L415.6,908.6 L416.4,908.5 L417.2,910.4 L418,913.8 L418.8,917.4 L419.6,920.2 L420.4,921.6 L421.2,922.5 L422,923 L422.8,923.1 L423.6,923.1 L424.4,922.5 L425.2,921.4 L426,919.9 L426.8,918.5 L427.6,917.6 L428.4,917.3 L429.2,917.5 L430,918 L430.8,918.3 L431.6,918.2 L432.4,917.7 L433.2,916.2 L434,912.9 L434.8,908.7 L435.6,903.9 L436.4,899.4 L437.2,894.5 L438,889 L438.8,883.2 L439.6,877.2 L440.4,870.9 L441.2,864 L442,856.6 L442.8,848.9 L443.6,841.3 L444.4,833.9 L445.2,826.1 L446,817.4 L446.8,806.8 L447.6,792.6 L448.4,780.2 L449.2,770.5 L450,762.1 L450.8,757.9 L451.6,762.9 L452.4,771.8 L453.2,780 L454,789.1 L454.8,798.8 L455.6,809.8 L456.4,823.7 L457.2,839.6 L458,853.9 L458.8,864.7 L459.6,874.1 L460.4,881.8 L461.2,887.1 L462,890.6 L462.8,893.6 L463.6,895.2 L464.4,895.5 L465.2,895.1 L466,893.7 L466.8,891.5 L467.6,888.6 L468.4,884.1 L469.2,878.2 L470,872.6 L470.8,868.8 L471.6,865.8 L472.4,864.4 L473.2,865.2 L474,868.7 L474.8,873.4 L475.6,878.2 L476.4,884.4 L477.2,891.2 L478,898 L478.8,904.1 L479.6,909.6 L480.4,915.1 L481.2,920.1 L482,924.3 L482.8,927.1 L483.6,929.4 L484.4,931.7 L485.2,933.7 L486,935.5 L486.8,936.7 L487.6,937.1 L488.4,936.4 L489.2,935 L490,933.5 L490.8,932.3 L491.6,931.6 L492.4,929.9 L493.2,926.5 L494,921.7 L494.8,916.1 L495.6,910.1 L496.4,902.7 L497.2,893.8 L498,883.7 L498.8,872.9 L499.6,861 L500.4,847.3 L501.2,832.5 L502,817.5 L502.8,801.6 L503.6,785.2 L504.4,776.1 L505.2,771.3 L506,775.3 L506.8,785 L507.6,806.1 L508.4,826.5 L509.2,840.8 L510,853.2 L510.8,864.6 L511.6,875.3 L512.4,885.8 L513.2,896 L514,905.4 L514.8,913.4 L515.6,919.7 L516.4,925.1 L517.2,930.2 L518,934.9 L518.8,939.1 L519.6,942.7 L520.4,945.6 L521.2,947.9 L522,949.8 L522.8,951.3 L523.6,952.5 L524.4,953.8 L525.2,955.2 L526,956.7 L526.8,958.2 L527.6,959.6 L528.4,960.7 L529.2,961.7 L530,962.7 L530.8,963.5 L531.6,964.3 L532.4,965 L533.2,965.4 L534,965.4 L534.8,965.3 L535.6,965 L536.4,964.7 L537.2,964.3 L538,963.6 L538.8,962.8 L539.6,961.7 L540.4,960.3 L541.2,958.4 L542,956.1 L542.8,953.6 L543.6,951 L544.4,948.3 L545.2,945.2 L546,941.4 L546.8,936.8 L547.6,931.5 L548.4,925.8 L549.2,919.5 L550,912 L550.8,904.1 L551.6,897 L552.4,890.3 L553.2,883.9 L554,882.1 L554.8,884.1 L555.6,889.3 L556.4,895.5 L557.2,904.2 L558,915.1 L558.8,925.6 L559.6,933.5 L560.4,940.1 L561.2,946 L562,950.6 L562.8,953.8 L563.6,956.5 L564.4,959.2 L565.2,961.6 L566,963.7 L566.8,965.2 L567.6,966 L568.4,966.2 L569.2,966.3 L570,966.2 L570.8,966 L571.6,965.7 L572.4,965.3 L573.2,965.1 L574,966.2 L574.8,968.2 L575.6,970.6 L576.4,972.8 L577.2,974.5 L578,974.9 L578.8,973.5 L579.6,971.1 L580.4,968.5 L581.2,966.3 L582,964.8 L582.8,963.5 L583.6,962.4 L584.4,961.5 L585.2,961 L586,960.6 L586.8,960 L587.6,959.2 L588.4,958.2 L589.2,957 L590,955.4 L590.8,953.6 L591.6,951.9 L592.4,950.4 L593.2,949 L594,947.2 L594.8,944.8 L595.6,941.7 L596.4,938.2 L597.2,934.9 L598,931.8 L598.8,928.5 L599.6,925 L600.4,920.8 L601.2,916.3 L602,911.6 L602.8,907 L603.6,902.3 L604.4,897.3 L605.2,892 L606,886.5 L606.8,881.1 L607.6,876.1 L608.4,871.7 L609.2,867 L610,862.6 L610.8,859 L611.6,857.1 L612.4,856.2 L613.2,855.7 L614,855.6 L614.8,857.4 L615.6,860.6 L616.4,864.2 L617.2,868 L618,872.8 L618.8,878.2 L619.6,883.4 L620.4,887.9 L621.2,892.2 L622,896.3 L622.8,898.9 L623.6,897.6 L624.4,894.2 L625.2,889.7 L626,885.3 L626.8,881.3 L627.6,876.3 L628.4,871.2 L629.2,866.8 L630,864.1 L630.8,861.9 L631.6,860.4 L632.4,860.1 L633.2,861.6 L634,864.7 L634.8,868.5 L635.6,872.4 L636.4,877.4 L637.2,883.6 L638,890.3 L638.8,896.9 L639.6,902.7 L640.4,908.3 L641.2,913.9 L642,919.2 L642.8,924.2 L643.6,928.7 L644.4,932.6 L645.2,936.2 L646,939.6 L646.8,942.7 L647.6,945.3 L648.4,947.3 L649.2,948.7 L650,949.8 L650.8,950.7 L651.6,951.6 L652.4,952.6 L653.2,953.6 L654,954.7 L654.8,955.7 L655.6,956.8 L656.4,957.7 L657.2,958.3 L658,958.6 L658.8,958.6 L659.6,958.2 L660.4,958.1 L661.2,958.3 L662,958.6 L662.8,959 L663.6,959.3 L664.4,959.3 L665.2,953.1" stroke="#ff7f0e"/>
</g>
<g stroke="#000" stroke-width="1.6" fill="none">
<path d="M297.8,983.3 V524 M292,529.9 l5.8,-6.3 l5.8,6.3"/>
<path d="M344.7,983.3 V524 M338.9,529.9 l5.8,-6.3 l5.8,6.3"/>
<path d="M503.8,983.3 V524 M498,529.9 l5.8,-6.3 l5.8,6.3"/>
</g>
<path d="M225.8,1055.2 V982.5 M261.9,1055.2 V1030.1 M374.9,1055.2 V1021.7 M444.4,1055.2 V1028.8 M466.3,1055.2 V1046.9 M549.1,1055.2 V1047.5 M607.4,1055.2 V1044.5 M626.9,1055.2 V1046.6" stroke="#ff7f0e" stroke-width="2.3" fill="none"/>
<path d="M131.2,1127 V1121.3 M181.6,1127 V1110.4 M223.8,1127 V1054.5 M252,1127 V1078 M261.2,1127 V1079.8 M262.9,1127 V1074.7 M285,1127 V1112.5 M314.9,1127 V1121.2 M320.8,1127 V1117 M368.1,1127 V1074.1 M375.2,1127 V1069.7 M392.4,1127 V1109.6 M407.8,1127 V1111.1 M430.8,1127 V1079.1 M443.8,1127 V1068.2 M461,1127 V1086.8 M483,1127 V1119.1 M496.1,1127 V1112 M526.6,1127 V1119.1 M546.4,1127 V1115.5 M548.5,1127 V1115.5 M550.6,1127 V1115.5 M563.9,1127 V1120 M576,1127 V1120 M595.8,1127 V1107.5 M605,1127 V1117.9 M607.1,1127 V1103.1 M621.6,1127 V1115 M623.3,1127 V1115 M625.4,1127 V1113.2 M628.1,1127 V1113.2 M641.1,1127 V1120.6 M653.5,1127 V1117" stroke="#1a7a1a" stroke-width="2.3" fill="none"/>
<path d="M132.6,1199 V1190 M181.6,1199 V1183.2 M185,1199 V1186.6 M212.2,1199 V1126.5 M236.4,1199 V1141.4 M255.8,1199 V1178.1 M258.8,1199 V1181.5 M265,1199 V1180.2 M269,1199 V1190 M289.1,1199 V1189.4 M298.6,1199 V1194.5 M304.8,1199 V1185.7 M307.2,1199 V1191 M309.2,1199 V1192.5 M310.7,1199 V1192.5 M335,1199 V1192.5 M340.3,1199 V1190.4 M365.4,1199 V1193.9 M368.4,1199 V1183.6 M375.2,1199 V1182.1 M378.2,1199 V1187.4 M383.2,1199 V1191 M403.3,1199 V1188 M406,1199 V1192.5 M408.3,1199 V1195.4 M412.8,1199 V1186.5 M414.9,1199 V1188.6 M417.8,1199 V1189.5 M426.7,1199 V1189.5 M432.9,1199 V1191 M435,1199 V1192.5 M446.2,1199 V1189.5 M448.3,1199 V1188.6 M457.2,1199 V1190.4 M461.6,1199 V1189.5 M468.4,1199 V1187.4 M477,1199 V1194.5 M479.3,1199 V1193.3 M486.7,1199 V1192.5 M488.8,1199 V1190.4 M490.2,1199 V1191 M492.3,1199 V1193.3 M514.5,1199 V1193.3 M530.1,1199 V1190.4 M538.1,1199 V1193.9 M541.1,1199 V1194.5 M557.4,1199 V1193.9 M559.7,1199 V1192.5 M561.8,1199 V1193.3 M570.1,1199 V1193.3 M576.6,1199 V1194.5 M579.6,1199 V1194.5 M588.4,1199 V1193.9 M607.7,1199 V1193.9 M615.1,1199 V1194 M617.4,1199 V1194 M619.5,1199 V1194 M621.6,1199 V1194 M623.9,1199 V1194 M626.9,1199 V1194 M629.3,1199 V1194 M633.4,1199 V1194.5 M641.1,1199 V1194.5 M652,1199 V1194 M654.4,1199 V1193.3 M656.5,1199 V1193.3 M658.8,1199 V1192.5" stroke="#1414ff" stroke-width="2.3" fill="none"/>
<g stroke="#000" stroke-width="2.05" fill="none">
<rect x="77.5" y="524.3" width="588.7" height="674.7"/>
<path d="M77.5,983.3 H666.2 M77.5,1055.2 H666.2 M77.5,1127 H666.2 M77.5,1199 v9 M114.3,983.3 v5.3 M114.3,1199 v5 M151.1,983.3 v10 M151.1,1199 v9 M187.9,983.3 v5.3 M187.9,1199 v5 M224.7,983.3 v10 M224.7,1199 v9 M261.5,983.3 v5.3 M261.5,1199 v5 M298.3,983.3 v10 M298.3,1199 v9 M335.1,983.3 v5.3 M335.1,1199 v5 M371.9,983.3 v10 M371.9,1199 v9 M408.6,983.3 v5.3 M408.6,1199 v5 M445.4,983.3 v10 M445.4,1199 v9 M482.2,983.3 v5.3 M482.2,1199 v5 M519,983.3 v10 M519,1199 v9 M555.8,983.3 v5.3 M555.8,1199 v5 M592.6,983.3 v10 M592.6,1199 v9 M629.4,983.3 v5.3 M629.4,1199 v5 M666.2,1199 v9 M77.5,554.8 h-9.5 M77.5,679.6 h-4.8 M77.5,648.2 h-4.8 M77.5,625.9 h-4.8 M77.5,608.6 h-4.8 M77.5,594.4 h-4.8 M77.5,582.5 h-4.8 M77.5,572.1 h-4.8 M77.5,563 h-4.8 M77.5,733.4 h-9.5 M77.5,858.2 h-4.8 M77.5,826.8 h-4.8 M77.5,804.5 h-4.8 M77.5,787.2 h-4.8 M77.5,773 h-4.8 M77.5,761.1 h-4.8 M77.5,750.7 h-4.8 M77.5,741.6 h-4.8 M77.5,912 h-9.5 M77.5,983.1 h-4.8 M77.5,965.8 h-4.8 M77.5,951.6 h-4.8 M77.5,939.7 h-4.8 M77.5,929.3 h-4.8 M77.5,920.2 h-4.8 M77.5,983.3 h-4"/>
</g>
<g font-size="18.1" text-anchor="middle">
<text x="77.5" y="1228.4">10</text>
<text x="151.1" y="1228.4">20</text>
<text x="224.7" y="1228.4">30</text>
<text x="298.3" y="1228.4">40</text>
<text x="371.9" y="1228.4">50</text>
<text x="445.4" y="1228.4">60</text>
<text x="519" y="1228.4">70</text>
<text x="592.6" y="1228.4">80</text>
<text x="666.2" y="1228.4">90</text>
</g>
<text x="377.4" y="1274.2" font-size="28.8" text-anchor="middle" textLength="125.5" lengthAdjust="spacingAndGlyphs">2Theta [°]</text>
<text transform="translate(47.4,871) rotate(-90)" font-size="22.3" text-anchor="middle" textLength="138" lengthAdjust="spacingAndGlyphs">Counts [a.u.]</text>
<g font-size="24">
<text x="5.5" y="657.6" textLength="62.5" lengthAdjust="spacingAndGlyphs">900°C</text>
<text x="5.5" y="691.6" textLength="62.5" lengthAdjust="spacingAndGlyphs">800°C</text>
<text x="5.5" y="725.6" textLength="62.5" lengthAdjust="spacingAndGlyphs">700°C</text>
<text x="5.5" y="759.6" textLength="62.5" lengthAdjust="spacingAndGlyphs">600°C</text>
</g>
<g font-size="21.2">
<text x="81.2" y="1009.8" textLength="51.6" lengthAdjust="spacingAndGlyphs">Cubic</text>
<text x="80.9" y="1079.6" textLength="135.4" lengthAdjust="spacingAndGlyphs">Orthorhombic</text>
<text x="80.9" y="1151.6" textLength="104" lengthAdjust="spacingAndGlyphs">Monoclinic</text>
</g>
<text x="316.5" y="539.2" font-size="17.4" style="stroke-width:.9px" textLength="18.6" lengthAdjust="spacingAndGlyphs">Pt</text>
<text><tspan x="-4.5" y="542.9" font-size="40" textLength="24" lengthAdjust="spacingAndGlyphs" style="stroke-width:1px">b</tspan><tspan x="21" y="541.6" font-size="38.7" textLength="10.4" lengthAdjust="spacingAndGlyphs" style="stroke-width:.8px">)</tspan></text>
</g>
</svg></body></html>
